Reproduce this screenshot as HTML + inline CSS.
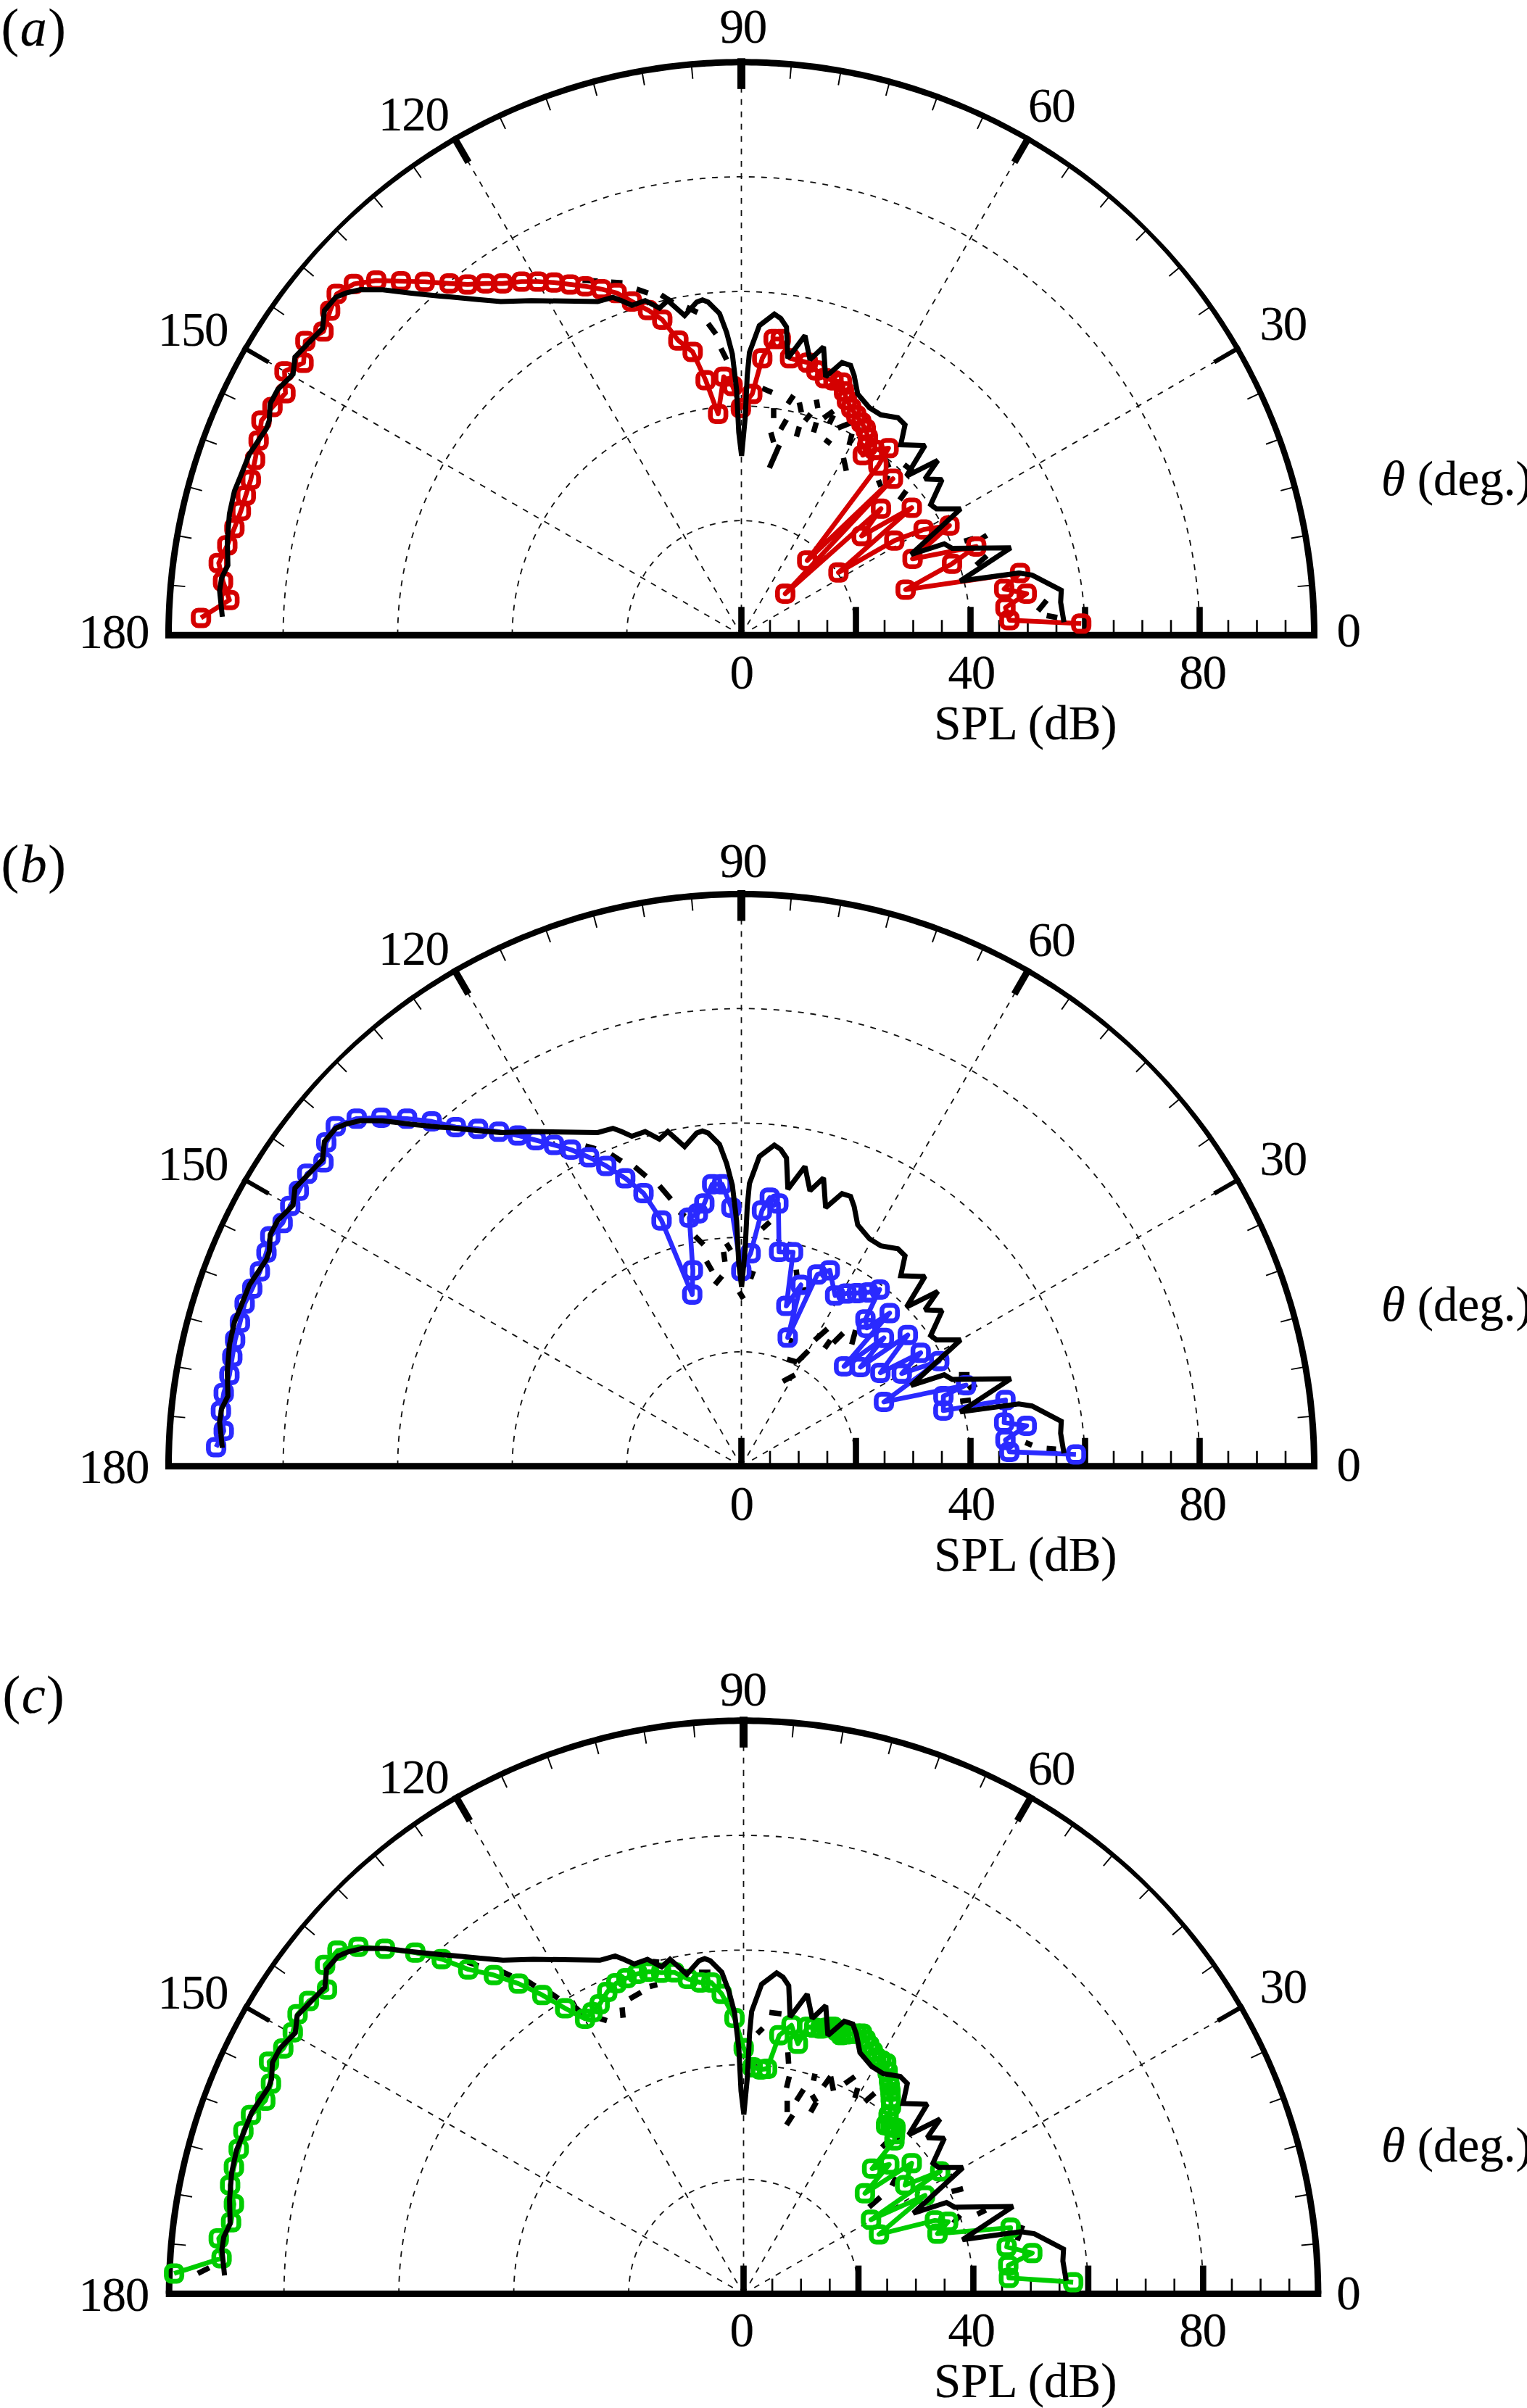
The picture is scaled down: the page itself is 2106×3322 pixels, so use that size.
<!DOCTYPE html>
<html><head><meta charset="utf-8"><title>SPL directivity</title>
<style>
html,body{margin:0;padding:0;background:#fff}
body{width:2106px;height:3322px;overflow:hidden}
svg{display:block}
text{font-family:"Liberation Serif",serif;font-size:67px;fill:#000;stroke:#000;stroke-width:0.2px}
.i{font-style:italic}
.dg{letter-spacing:-1.3px}
.pl{font-size:74px;letter-spacing:1.5px}
.grid{fill:none;stroke:#111;stroke-width:1.8;stroke-dasharray:8 9}
.mtick{stroke:#000;stroke-width:1.9}
.Mtick{stroke:#000;stroke-width:10}
.btick{stroke:#000;stroke-width:2.6}
.Btick{stroke:#000;stroke-width:8.6}
.arc{fill:none;stroke:#000;stroke-width:7.5}
.base{stroke:#000;stroke-width:9}
.sol{fill:none;stroke:#000;stroke-width:7;stroke-linejoin:miter;stroke-miterlimit:1.6}
.dsh{fill:none;stroke:#000;stroke-width:7.5}
.cl{fill:none;stroke-width:6.6;stroke-linejoin:round}
.mk{fill:none;stroke-width:6.6}
</style></head><body>
<svg width="2106" height="3322" viewBox="0 0 2106 3322">
<rect width="2106" height="3322" fill="#fff"/>

<g transform="translate(1022.5,876.3) scale(1.00000,1.00063)">
<path d="M-158.0,0 A158.0,158.0 0 0 1 158.0,0" class="grid"/>
<path d="M-316.0,0 A316.0,316.0 0 0 1 316.0,0" class="grid"/>
<path d="M-474.0,0 A474.0,474.0 0 0 1 474.0,0" class="grid"/>
<path d="M-632.0,0 A632.0,632.0 0 0 1 632.0,0" class="grid"/>
<line x1="0" y1="0" x2="684.2" y2="-395.0" class="grid"/>
<line x1="0" y1="0" x2="395.0" y2="-684.2" class="grid"/>
<line x1="0" y1="0" x2="0.0" y2="-790.0" class="grid"/>
<line x1="0" y1="0" x2="-395.0" y2="-684.2" class="grid"/>
<line x1="0" y1="0" x2="-684.2" y2="-395.0" class="grid"/>
<line x1="787.0" y1="-68.9" x2="767.1" y2="-67.1" class="mtick"/>
<line x1="778.0" y1="-137.2" x2="758.3" y2="-133.7" class="mtick"/>
<line x1="763.1" y1="-204.5" x2="743.8" y2="-199.3" class="mtick"/>
<line x1="742.4" y1="-270.2" x2="723.6" y2="-263.4" class="mtick"/>
<line x1="716.0" y1="-333.9" x2="697.9" y2="-325.4" class="mtick"/>
<line x1="647.1" y1="-453.1" x2="630.7" y2="-441.7" class="mtick"/>
<line x1="605.2" y1="-507.8" x2="589.9" y2="-494.9" class="mtick"/>
<line x1="558.6" y1="-558.6" x2="544.5" y2="-544.5" class="mtick"/>
<line x1="507.8" y1="-605.2" x2="494.9" y2="-589.9" class="mtick"/>
<line x1="453.1" y1="-647.1" x2="441.7" y2="-630.7" class="mtick"/>
<line x1="333.9" y1="-716.0" x2="325.4" y2="-697.9" class="mtick"/>
<line x1="270.2" y1="-742.4" x2="263.4" y2="-723.6" class="mtick"/>
<line x1="204.5" y1="-763.1" x2="199.3" y2="-743.8" class="mtick"/>
<line x1="137.2" y1="-778.0" x2="133.7" y2="-758.3" class="mtick"/>
<line x1="68.9" y1="-787.0" x2="67.1" y2="-767.1" class="mtick"/>
<line x1="-68.9" y1="-787.0" x2="-67.1" y2="-767.1" class="mtick"/>
<line x1="-137.2" y1="-778.0" x2="-133.7" y2="-758.3" class="mtick"/>
<line x1="-204.5" y1="-763.1" x2="-199.3" y2="-743.8" class="mtick"/>
<line x1="-270.2" y1="-742.4" x2="-263.4" y2="-723.6" class="mtick"/>
<line x1="-333.9" y1="-716.0" x2="-325.4" y2="-697.9" class="mtick"/>
<line x1="-453.1" y1="-647.1" x2="-441.7" y2="-630.7" class="mtick"/>
<line x1="-507.8" y1="-605.2" x2="-494.9" y2="-589.9" class="mtick"/>
<line x1="-558.6" y1="-558.6" x2="-544.5" y2="-544.5" class="mtick"/>
<line x1="-605.2" y1="-507.8" x2="-589.9" y2="-494.9" class="mtick"/>
<line x1="-647.1" y1="-453.1" x2="-630.7" y2="-441.7" class="mtick"/>
<line x1="-716.0" y1="-333.9" x2="-697.9" y2="-325.4" class="mtick"/>
<line x1="-742.4" y1="-270.2" x2="-723.6" y2="-263.4" class="mtick"/>
<line x1="-763.1" y1="-204.5" x2="-743.8" y2="-199.3" class="mtick"/>
<line x1="-778.0" y1="-137.2" x2="-758.3" y2="-133.7" class="mtick"/>
<line x1="-787.0" y1="-68.9" x2="-767.1" y2="-67.1" class="mtick"/>
<line x1="687.6" y1="-397.0" x2="652.1" y2="-376.5" stroke="#000" stroke-width="6.2"/>
<line x1="397.0" y1="-687.6" x2="376.5" y2="-652.1" stroke="#000" stroke-width="9.5"/>
<line x1="0.0" y1="-795.5" x2="0.0" y2="-753.0" stroke="#000" stroke-width="11.0"/>
<line x1="-397.0" y1="-687.6" x2="-376.5" y2="-652.1" stroke="#000" stroke-width="9.5"/>
<line x1="-687.6" y1="-397.0" x2="-652.1" y2="-376.5" stroke="#000" stroke-width="6.2"/>
<line x1="39.5" y1="0" x2="39.5" y2="-21" class="btick"/>
<line x1="79.0" y1="0" x2="79.0" y2="-21" class="btick"/>
<line x1="118.5" y1="0" x2="118.5" y2="-21" class="btick"/>
<line x1="158.0" y1="0" x2="158.0" y2="-39" class="Btick"/>
<line x1="197.5" y1="0" x2="197.5" y2="-21" class="btick"/>
<line x1="237.0" y1="0" x2="237.0" y2="-21" class="btick"/>
<line x1="276.5" y1="0" x2="276.5" y2="-21" class="btick"/>
<line x1="316.0" y1="0" x2="316.0" y2="-39" class="Btick"/>
<line x1="355.5" y1="0" x2="355.5" y2="-21" class="btick"/>
<line x1="395.0" y1="0" x2="395.0" y2="-21" class="btick"/>
<line x1="434.5" y1="0" x2="434.5" y2="-21" class="btick"/>
<line x1="474.0" y1="0" x2="474.0" y2="-39" class="Btick"/>
<line x1="513.5" y1="0" x2="513.5" y2="-21" class="btick"/>
<line x1="553.0" y1="0" x2="553.0" y2="-21" class="btick"/>
<line x1="592.5" y1="0" x2="592.5" y2="-21" class="btick"/>
<line x1="632.0" y1="0" x2="632.0" y2="-39" class="Btick"/>
<line x1="671.5" y1="0" x2="671.5" y2="-21" class="btick"/>
<line x1="711.0" y1="0" x2="711.0" y2="-21" class="btick"/>
<line x1="750.5" y1="0" x2="750.5" y2="-21" class="btick"/>
<line x1="0" y1="0" x2="0" y2="-39" class="Btick"/>
<polygon fill="#000" points="794.5,-0.0 794.5,-6.9 794.4,-13.9 794.2,-20.8 794.0,-27.7 793.7,-34.7 793.4,-41.6 793.0,-48.5 792.6,-55.4 792.0,-62.3 791.5,-69.2 790.8,-76.1 790.1,-83.0 789.4,-89.9 788.5,-96.8 787.7,-103.7 786.7,-110.6 785.7,-117.4 784.6,-124.3 783.5,-131.1 782.3,-137.9 781.1,-144.8 779.8,-151.6 778.4,-158.4 777.0,-165.2 775.5,-171.9 774.0,-178.7 772.4,-185.4 770.7,-192.2 769.0,-198.9 767.2,-205.6 765.4,-212.3 763.5,-218.9 761.6,-225.6 759.5,-232.2 757.5,-238.8 755.3,-245.4 753.2,-252.0 750.9,-258.6 748.6,-265.1 746.3,-271.6 743.8,-278.1 741.4,-284.6 738.8,-291.0 736.3,-297.5 733.6,-303.9 730.9,-310.3 728.2,-316.6 725.4,-322.9 722.5,-329.3 719.6,-335.5 716.6,-341.8 713.6,-348.0 710.5,-354.2 707.3,-360.4 704.2,-366.6 700.9,-372.7 697.6,-378.8 694.3,-384.8 690.9,-390.9 687.4,-396.9 683.9,-402.8 680.3,-408.8 676.7,-414.7 673.0,-420.6 669.3,-426.4 665.6,-432.2 661.7,-438.0 657.9,-443.7 653.9,-449.4 650.0,-455.1 646.0,-460.8 641.9,-466.4 637.8,-471.9 633.6,-477.5 629.4,-482.9 625.1,-488.4 620.8,-493.8 616.5,-499.2 612.1,-504.5 607.6,-509.8 603.1,-515.1 598.6,-520.3 594.0,-525.5 589.4,-530.7 584.7,-535.8 580.0,-540.8 575.2,-545.8 570.4,-550.8 565.5,-555.8 560.6,-560.6 555.8,-565.5 550.8,-570.4 545.8,-575.2 540.8,-580.0 535.8,-584.7 530.7,-589.4 525.5,-594.0 520.3,-598.6 515.1,-603.1 509.8,-607.6 504.5,-612.1 499.2,-616.5 493.8,-620.8 488.4,-625.1 482.9,-629.4 477.5,-633.6 471.9,-637.8 466.4,-641.9 460.8,-646.0 455.1,-650.0 449.4,-653.9 443.7,-657.9 438.0,-661.7 432.2,-665.6 426.4,-669.3 420.6,-673.0 414.7,-676.7 408.8,-680.3 402.8,-683.9 396.9,-687.4 390.9,-690.9 384.8,-694.3 378.8,-697.6 372.7,-700.9 366.6,-704.2 360.4,-707.3 354.2,-710.5 348.0,-713.6 341.8,-716.6 335.5,-719.6 329.3,-722.5 322.9,-725.4 316.6,-728.2 310.3,-730.9 303.9,-733.6 297.5,-736.3 291.0,-738.8 284.6,-741.4 278.1,-743.8 271.6,-746.3 265.1,-748.6 258.6,-750.9 252.0,-753.2 245.4,-755.3 238.8,-757.5 232.2,-759.5 225.6,-761.6 218.9,-763.5 212.3,-765.4 205.6,-767.2 198.9,-769.0 192.2,-770.7 185.4,-772.4 178.7,-774.0 171.9,-775.5 165.2,-777.0 158.4,-778.4 151.6,-779.8 144.8,-781.1 137.9,-782.3 131.1,-783.5 124.3,-784.6 117.4,-785.7 110.6,-786.7 103.7,-787.7 96.8,-788.5 89.9,-789.4 83.0,-790.1 76.1,-790.8 69.2,-791.5 62.3,-792.0 55.4,-792.6 48.5,-793.0 41.6,-793.4 34.7,-793.7 27.7,-794.0 20.8,-794.2 13.9,-794.4 6.9,-794.5 0.0,-794.5 -6.9,-794.5 -13.9,-794.4 -20.8,-794.2 -27.7,-794.0 -34.7,-793.7 -41.6,-793.4 -48.5,-793.0 -55.4,-792.6 -62.3,-792.0 -69.2,-791.5 -76.1,-790.8 -83.0,-790.1 -89.9,-789.4 -96.8,-788.5 -103.7,-787.7 -110.6,-786.7 -117.4,-785.7 -124.3,-784.6 -131.1,-783.5 -137.9,-782.3 -144.8,-781.1 -151.6,-779.8 -158.4,-778.4 -165.2,-777.0 -171.9,-775.5 -178.7,-774.0 -185.4,-772.4 -192.2,-770.7 -198.9,-769.0 -205.6,-767.2 -212.3,-765.4 -218.9,-763.5 -225.6,-761.6 -232.2,-759.5 -238.8,-757.5 -245.4,-755.3 -252.0,-753.2 -258.6,-750.9 -265.1,-748.6 -271.6,-746.3 -278.1,-743.8 -284.6,-741.4 -291.0,-738.8 -297.5,-736.3 -303.9,-733.6 -310.3,-730.9 -316.6,-728.2 -322.9,-725.4 -329.3,-722.5 -335.5,-719.6 -341.8,-716.6 -348.0,-713.6 -354.2,-710.5 -360.4,-707.3 -366.6,-704.2 -372.7,-700.9 -378.8,-697.6 -384.8,-694.3 -390.9,-690.9 -396.9,-687.4 -402.8,-683.9 -408.8,-680.3 -414.7,-676.7 -420.6,-673.0 -426.4,-669.3 -432.2,-665.6 -438.0,-661.7 -443.7,-657.9 -449.4,-653.9 -455.1,-650.0 -460.8,-646.0 -466.4,-641.9 -471.9,-637.8 -477.5,-633.6 -482.9,-629.4 -488.4,-625.1 -493.8,-620.8 -499.2,-616.5 -504.5,-612.1 -509.8,-607.6 -515.1,-603.1 -520.3,-598.6 -525.5,-594.0 -530.7,-589.4 -535.8,-584.7 -540.8,-580.0 -545.8,-575.2 -550.8,-570.4 -555.8,-565.5 -560.6,-560.6 -565.5,-555.8 -570.4,-550.8 -575.2,-545.8 -580.0,-540.8 -584.7,-535.8 -589.4,-530.7 -594.0,-525.5 -598.6,-520.3 -603.1,-515.1 -607.6,-509.8 -612.1,-504.5 -616.5,-499.2 -620.8,-493.8 -625.1,-488.4 -629.4,-482.9 -633.6,-477.5 -637.8,-471.9 -641.9,-466.4 -646.0,-460.8 -650.0,-455.1 -653.9,-449.4 -657.9,-443.7 -661.7,-438.0 -665.6,-432.2 -669.3,-426.4 -673.0,-420.6 -676.7,-414.7 -680.3,-408.8 -683.9,-402.8 -687.4,-396.9 -690.9,-390.9 -694.3,-384.8 -697.6,-378.8 -700.9,-372.7 -704.2,-366.6 -707.3,-360.4 -710.5,-354.2 -713.6,-348.0 -716.6,-341.8 -719.6,-335.5 -722.5,-329.3 -725.4,-322.9 -728.2,-316.6 -730.9,-310.3 -733.6,-303.9 -736.3,-297.5 -738.8,-291.0 -741.4,-284.6 -743.8,-278.1 -746.3,-271.6 -748.6,-265.1 -750.9,-258.6 -753.2,-252.0 -755.3,-245.4 -757.5,-238.8 -759.5,-232.2 -761.6,-225.6 -763.5,-218.9 -765.4,-212.3 -767.2,-205.6 -769.0,-198.9 -770.7,-192.2 -772.4,-185.4 -774.0,-178.7 -775.5,-171.9 -777.0,-165.2 -778.4,-158.4 -779.8,-151.6 -781.1,-144.8 -782.3,-137.9 -783.5,-131.1 -784.6,-124.3 -785.7,-117.4 -786.7,-110.6 -787.7,-103.7 -788.5,-96.8 -789.4,-89.9 -790.1,-83.0 -790.8,-76.1 -791.5,-69.2 -792.0,-62.3 -792.6,-55.4 -793.0,-48.5 -793.4,-41.6 -793.7,-34.7 -794.0,-27.7 -794.2,-20.8 -794.4,-13.9 -794.5,-6.9 -794.5,-0.0 -785.5,-0.0 -785.5,-6.9 -785.4,-13.7 -785.2,-20.6 -785.0,-27.4 -784.8,-34.3 -784.4,-41.1 -784.0,-48.0 -783.6,-54.8 -783.1,-61.6 -782.5,-68.5 -781.9,-75.3 -781.2,-82.1 -780.5,-88.9 -779.7,-95.7 -778.8,-102.5 -777.9,-109.3 -776.9,-116.1 -775.9,-122.9 -774.8,-129.7 -773.7,-136.4 -772.4,-143.2 -771.2,-149.9 -769.8,-156.6 -768.5,-163.3 -767.0,-170.0 -765.5,-176.7 -764.0,-183.4 -762.3,-190.1 -760.7,-196.7 -758.9,-203.4 -757.1,-210.0 -755.3,-216.6 -753.4,-223.2 -751.4,-229.7 -749.4,-236.3 -747.3,-242.8 -745.2,-249.3 -743.0,-255.8 -740.8,-262.3 -738.5,-268.8 -736.1,-275.2 -733.7,-281.6 -731.2,-288.0 -728.7,-294.4 -726.1,-300.8 -723.5,-307.1 -720.8,-313.4 -718.0,-319.7 -715.2,-326.0 -712.4,-332.2 -709.5,-338.4 -706.5,-344.6 -703.5,-350.8 -700.4,-356.9 -697.3,-363.0 -694.1,-369.1 -690.9,-375.1 -687.6,-381.2 -684.3,-387.2 -680.9,-393.1 -677.5,-399.1 -674.0,-405.0 -670.5,-410.9 -666.9,-416.7 -663.2,-422.5 -659.5,-428.3 -655.8,-434.1 -652.0,-439.8 -648.2,-445.5 -644.3,-451.1 -640.3,-456.8 -636.4,-462.3 -632.3,-467.9 -628.2,-473.4 -624.1,-478.9 -619.9,-484.3 -615.7,-489.7 -611.4,-495.1 -607.1,-500.5 -602.7,-505.8 -598.3,-511.0 -593.9,-516.2 -589.4,-521.4 -584.8,-526.6 -580.2,-531.7 -575.6,-536.7 -570.9,-541.8 -566.2,-546.7 -561.4,-551.7 -556.6,-556.6 -551.7,-561.4 -546.7,-566.2 -541.8,-570.9 -536.7,-575.6 -531.7,-580.2 -526.6,-584.8 -521.4,-589.4 -516.2,-593.9 -511.0,-598.3 -505.8,-602.7 -500.5,-607.1 -495.1,-611.4 -489.7,-615.7 -484.3,-619.9 -478.9,-624.1 -473.4,-628.2 -467.9,-632.3 -462.3,-636.4 -456.8,-640.3 -451.1,-644.3 -445.5,-648.2 -439.8,-652.0 -434.1,-655.8 -428.3,-659.5 -422.5,-663.2 -416.7,-666.9 -410.9,-670.5 -405.0,-674.0 -399.1,-677.5 -393.1,-680.9 -387.2,-684.3 -381.2,-687.6 -375.1,-690.9 -369.1,-694.1 -363.0,-697.3 -356.9,-700.4 -350.8,-703.5 -344.6,-706.5 -338.4,-709.5 -332.2,-712.4 -326.0,-715.2 -319.7,-718.0 -313.4,-720.8 -307.1,-723.5 -300.8,-726.1 -294.4,-728.7 -288.0,-731.2 -281.6,-733.7 -275.2,-736.1 -268.8,-738.5 -262.3,-740.8 -255.8,-743.0 -249.3,-745.2 -242.8,-747.3 -236.3,-749.4 -229.7,-751.4 -223.2,-753.4 -216.6,-755.3 -210.0,-757.1 -203.4,-758.9 -196.7,-760.7 -190.1,-762.3 -183.4,-764.0 -176.7,-765.5 -170.0,-767.0 -163.3,-768.5 -156.6,-769.8 -149.9,-771.2 -143.2,-772.4 -136.4,-773.7 -129.7,-774.8 -122.9,-775.9 -116.1,-776.9 -109.3,-777.9 -102.5,-778.8 -95.7,-779.7 -88.9,-780.5 -82.1,-781.2 -75.3,-781.9 -68.5,-782.5 -61.6,-783.1 -54.8,-783.6 -48.0,-784.0 -41.1,-784.4 -34.3,-784.8 -27.4,-785.0 -20.6,-785.2 -13.7,-785.4 -6.9,-785.5 0.0,-785.5 6.9,-785.5 13.7,-785.4 20.6,-785.2 27.4,-785.0 34.3,-784.8 41.1,-784.4 48.0,-784.0 54.8,-783.6 61.6,-783.1 68.5,-782.5 75.3,-781.9 82.1,-781.2 88.9,-780.5 95.7,-779.7 102.5,-778.8 109.3,-777.9 116.1,-776.9 122.9,-775.9 129.7,-774.8 136.4,-773.7 143.2,-772.4 149.9,-771.2 156.6,-769.8 163.3,-768.5 170.0,-767.0 176.7,-765.5 183.4,-764.0 190.1,-762.3 196.7,-760.7 203.4,-758.9 210.0,-757.1 216.6,-755.3 223.2,-753.4 229.7,-751.4 236.3,-749.4 242.8,-747.3 249.3,-745.2 255.8,-743.0 262.3,-740.8 268.8,-738.5 275.2,-736.1 281.6,-733.7 288.0,-731.2 294.4,-728.7 300.8,-726.1 307.1,-723.5 313.4,-720.8 319.7,-718.0 326.0,-715.2 332.2,-712.4 338.4,-709.5 344.6,-706.5 350.8,-703.5 356.9,-700.4 363.0,-697.3 369.1,-694.1 375.1,-690.9 381.2,-687.6 387.2,-684.3 393.1,-680.9 399.1,-677.5 405.0,-674.0 410.9,-670.5 416.7,-666.9 422.5,-663.2 428.3,-659.5 434.1,-655.8 439.8,-652.0 445.5,-648.2 451.1,-644.3 456.8,-640.3 462.3,-636.4 467.9,-632.3 473.4,-628.2 478.9,-624.1 484.3,-619.9 489.7,-615.7 495.1,-611.4 500.5,-607.1 505.8,-602.7 511.0,-598.3 516.2,-593.9 521.4,-589.4 526.6,-584.8 531.7,-580.2 536.7,-575.6 541.8,-570.9 546.7,-566.2 551.7,-561.4 556.6,-556.6 561.4,-551.7 566.2,-546.7 570.9,-541.8 575.6,-536.7 580.2,-531.7 584.8,-526.6 589.4,-521.4 593.9,-516.2 598.3,-511.0 602.7,-505.8 607.1,-500.5 611.4,-495.1 615.7,-489.7 619.9,-484.3 624.1,-478.9 628.2,-473.4 632.3,-467.9 636.4,-462.3 640.3,-456.8 644.3,-451.1 648.2,-445.5 652.0,-439.8 655.8,-434.1 659.5,-428.3 663.2,-422.5 666.9,-416.7 670.5,-410.9 674.0,-405.0 677.5,-399.1 680.9,-393.1 684.3,-387.2 687.6,-381.2 690.9,-375.1 694.1,-369.1 697.3,-363.0 700.4,-356.9 703.5,-350.8 706.5,-344.6 709.5,-338.4 712.4,-332.2 715.2,-326.0 718.0,-319.7 720.8,-313.4 723.5,-307.1 726.1,-300.8 728.7,-294.4 731.2,-288.0 733.7,-281.6 736.1,-275.2 738.5,-268.8 740.8,-262.3 743.0,-255.8 745.2,-249.3 747.3,-242.8 749.4,-236.3 751.4,-229.7 753.4,-223.2 755.3,-216.6 757.1,-210.0 758.9,-203.4 760.7,-196.7 762.3,-190.1 764.0,-183.4 765.5,-176.7 767.0,-170.0 768.5,-163.3 769.8,-156.6 771.2,-149.9 772.4,-143.2 773.7,-136.4 774.8,-129.7 775.9,-122.9 776.9,-116.1 777.9,-109.3 778.8,-102.5 779.7,-95.7 780.5,-88.9 781.2,-82.1 781.9,-75.3 782.5,-68.5 783.1,-61.6 783.6,-54.8 784.0,-48.0 784.4,-41.1 784.8,-34.3 785.0,-27.4 785.2,-20.6 785.4,-13.7 785.5,-6.9 785.5,-0.0"/>
<line x1="-794.5" y1="0" x2="794.5" y2="0" class="base"/>
</g>
<polyline class="dsh" points="803.4,386.6 824.3,387.7"/>
<polyline class="dsh" points="842.7,389.2 858.4,390.3"/>
<polyline class="dsh" points="878.0,398.9 893.7,404.2"/>
<polyline class="dsh" points="976.6,446.2 987.4,460.9"/>
<polyline class="dsh" points="994.3,480.6 1002.2,496.3"/>
<polyline class="dsh" points="1051.3,535.6 1065.0,541.5"/>
<polyline class="dsh" points="1094.5,545.4 1086.6,557.2"/>
<polyline class="dsh" points="1102.4,555.2 1105.3,569.0"/>
<polyline class="dsh" points="1125.9,551.3 1127.9,563.1"/>
<polyline class="dsh" points="1067.0,563.1 1067.0,576.8"/>
<polyline class="dsh" points="1084.7,578.8 1076.8,592.5"/>
<polyline class="dsh" points="1102.4,588.6 1098.4,602.4"/>
<polyline class="dsh" points="1118.1,570.9 1110.2,580.7"/>
<polyline class="dsh" points="1125.9,582.7 1122.0,596.5"/>
<polyline class="dsh" points="1149.5,567.0 1135.8,576.8"/>
<polyline class="dsh" points="1149.5,572.9 1143.6,584.7"/>
<polyline class="dsh" points="1175.0,582.7 1155.4,590.6"/>
<polyline class="dsh" points="1137.7,606.3 1145.6,612.2"/>
<polyline class="dsh" points="1175.0,598.4 1171.1,614.1"/>
<polyline class="dsh" points="1063.1,596.5 1067.0,610.2"/>
<polyline class="dsh" points="1074.9,614.1 1061.1,645.6"/>
<polyline class="dsh" points="1163.3,631.8 1167.2,649.5"/>
<polyline class="dsh" points="1211.4,662.3 1215.0,671.5"/>
<polyline class="dsh" points="1249.9,677.0 1240.7,689.8"/>
<polyline class="dsh" points="1329.9,746.5 1342.7,742.9"/>
<polyline class="dsh" points="1353.7,742.9 1361.0,738.3"/>
<polyline class="dsh" points="1346.4,779.5 1361.0,766.7"/>
<polyline class="dsh" points="1431.6,842.8 1443.5,828.1"/>
<polyline class="dsh" points="1443.5,849.2 1458.2,852.0"/>
<polyline class="dsh" points="911.8,406.9 928.0,417.5"/>
<polyline class="dsh" points="947.0,424.0 962.0,431.0"/>
<polyline class="dsh" points="1222.0,636.0 1226.0,645.0"/>
<polyline class="dsh" points="1224.5,656.0 1221.0,665.0"/>
<polyline class="dsh" points="1247.0,641.0 1259.0,650.0"/>
<polyline class="cl" stroke="#d40000" points="277.2,852.4 316.4,827.8 307.6,802.3 301.7,776.7 313.5,752.2 323.3,728.6 332.2,705.0 339.0,683.4 345.9,661.8 351.8,634.3 356.7,607.8 360.6,580.3 375.8,561.5 393.7,542.4 392.4,512.3 418.6,500.5 421.2,470.4 446.1,457.3 455.3,428.5 464.4,405.5 488.0,391.8 519.0,387.0 553.0,388.0 585.8,388.8 620.0,391.1 644.9,392.4 669.8,391.1 693.3,391.1 719.5,388.5 741.8,388.5 764.1,389.8 786.3,392.4 807.3,395.0 829.6,398.9 850.5,404.2 871.5,416.0 893.7,427.8 913.4,440.9 935.6,469.7 955.3,485.4 973.2,524.5 990.4,570.9 998.2,519.8 1010.4,532.6 1021.8,563.0 1037.5,543.4 1051.3,494.3 1067.0,467.8 1076.8,467.8 1089.6,494.3 1114.1,500.2 1125.9,511.0 1137.7,521.8 1149.5,524.8 1161.3,527.7 1164.0,540.0 1168.0,552.0 1174.0,563.0 1181.0,573.0 1188.0,583.0 1194.0,592.0 1197.0,604.0 1196.0,616.0 1189.9,628.0 1206.0,620.5 1225.5,618.2 1211.4,642.2 1113.3,773.3 1231.5,660.5 1083.0,819.1 1215.0,701.8 1188.4,739.4 1257.5,700.5 1156.4,789.8 1233.4,745.8 1273.8,730.5 1309.5,725.0 1258.6,771.0 1346.4,753.9 1313.0,777.8 1249.1,813.5 1406.9,790.5 1384.9,812.5 1416.0,819.0 1386.7,838.2 1392.2,855.6 1491.2,860.2"/>
<rect class="mk" stroke="#d40000" x="266.5" y="841.7" width="21.4" height="21.4" rx="7"/>
<rect class="mk" stroke="#d40000" x="305.7" y="817.1" width="21.4" height="21.4" rx="7"/>
<rect class="mk" stroke="#d40000" x="296.9" y="791.6" width="21.4" height="21.4" rx="7"/>
<rect class="mk" stroke="#d40000" x="291.0" y="766.0" width="21.4" height="21.4" rx="7"/>
<rect class="mk" stroke="#d40000" x="302.8" y="741.5" width="21.4" height="21.4" rx="7"/>
<rect class="mk" stroke="#d40000" x="312.6" y="717.9" width="21.4" height="21.4" rx="7"/>
<rect class="mk" stroke="#d40000" x="321.5" y="694.3" width="21.4" height="21.4" rx="7"/>
<rect class="mk" stroke="#d40000" x="328.3" y="672.7" width="21.4" height="21.4" rx="7"/>
<rect class="mk" stroke="#d40000" x="335.2" y="651.1" width="21.4" height="21.4" rx="7"/>
<rect class="mk" stroke="#d40000" x="341.1" y="623.6" width="21.4" height="21.4" rx="7"/>
<rect class="mk" stroke="#d40000" x="346.0" y="597.1" width="21.4" height="21.4" rx="7"/>
<rect class="mk" stroke="#d40000" x="349.9" y="569.6" width="21.4" height="21.4" rx="7"/>
<rect class="mk" stroke="#d40000" x="365.1" y="550.8" width="21.4" height="21.4" rx="7"/>
<rect class="mk" stroke="#d40000" x="383.0" y="531.7" width="21.4" height="21.4" rx="7"/>
<rect class="mk" stroke="#d40000" x="381.7" y="501.6" width="21.4" height="21.4" rx="7"/>
<rect class="mk" stroke="#d40000" x="407.9" y="489.8" width="21.4" height="21.4" rx="7"/>
<rect class="mk" stroke="#d40000" x="410.5" y="459.7" width="21.4" height="21.4" rx="7"/>
<rect class="mk" stroke="#d40000" x="435.4" y="446.6" width="21.4" height="21.4" rx="7"/>
<rect class="mk" stroke="#d40000" x="444.6" y="417.8" width="21.4" height="21.4" rx="7"/>
<rect class="mk" stroke="#d40000" x="453.7" y="394.8" width="21.4" height="21.4" rx="7"/>
<rect class="mk" stroke="#d40000" x="477.3" y="381.1" width="21.4" height="21.4" rx="7"/>
<rect class="mk" stroke="#d40000" x="508.3" y="376.3" width="21.4" height="21.4" rx="7"/>
<rect class="mk" stroke="#d40000" x="542.3" y="377.3" width="21.4" height="21.4" rx="7"/>
<rect class="mk" stroke="#d40000" x="575.1" y="378.1" width="21.4" height="21.4" rx="7"/>
<rect class="mk" stroke="#d40000" x="609.3" y="380.4" width="21.4" height="21.4" rx="7"/>
<rect class="mk" stroke="#d40000" x="634.2" y="381.7" width="21.4" height="21.4" rx="7"/>
<rect class="mk" stroke="#d40000" x="659.1" y="380.4" width="21.4" height="21.4" rx="7"/>
<rect class="mk" stroke="#d40000" x="682.6" y="380.4" width="21.4" height="21.4" rx="7"/>
<rect class="mk" stroke="#d40000" x="708.8" y="377.8" width="21.4" height="21.4" rx="7"/>
<rect class="mk" stroke="#d40000" x="731.1" y="377.8" width="21.4" height="21.4" rx="7"/>
<rect class="mk" stroke="#d40000" x="753.4" y="379.1" width="21.4" height="21.4" rx="7"/>
<rect class="mk" stroke="#d40000" x="775.6" y="381.7" width="21.4" height="21.4" rx="7"/>
<rect class="mk" stroke="#d40000" x="796.6" y="384.3" width="21.4" height="21.4" rx="7"/>
<rect class="mk" stroke="#d40000" x="818.9" y="388.2" width="21.4" height="21.4" rx="7"/>
<rect class="mk" stroke="#d40000" x="839.8" y="393.5" width="21.4" height="21.4" rx="7"/>
<rect class="mk" stroke="#d40000" x="860.8" y="405.3" width="21.4" height="21.4" rx="7"/>
<rect class="mk" stroke="#d40000" x="883.0" y="417.1" width="21.4" height="21.4" rx="7"/>
<rect class="mk" stroke="#d40000" x="902.7" y="430.2" width="21.4" height="21.4" rx="7"/>
<rect class="mk" stroke="#d40000" x="924.9" y="459.0" width="21.4" height="21.4" rx="7"/>
<rect class="mk" stroke="#d40000" x="944.6" y="474.7" width="21.4" height="21.4" rx="7"/>
<rect class="mk" stroke="#d40000" x="962.5" y="513.8" width="21.4" height="21.4" rx="7"/>
<rect class="mk" stroke="#d40000" x="979.7" y="560.2" width="21.4" height="21.4" rx="7"/>
<rect class="mk" stroke="#d40000" x="987.5" y="509.1" width="21.4" height="21.4" rx="7"/>
<rect class="mk" stroke="#d40000" x="999.7" y="521.9" width="21.4" height="21.4" rx="7"/>
<rect class="mk" stroke="#d40000" x="1011.1" y="552.3" width="21.4" height="21.4" rx="7"/>
<rect class="mk" stroke="#d40000" x="1026.8" y="532.7" width="21.4" height="21.4" rx="7"/>
<rect class="mk" stroke="#d40000" x="1040.6" y="483.6" width="21.4" height="21.4" rx="7"/>
<rect class="mk" stroke="#d40000" x="1056.3" y="457.1" width="21.4" height="21.4" rx="7"/>
<rect class="mk" stroke="#d40000" x="1066.1" y="457.1" width="21.4" height="21.4" rx="7"/>
<rect class="mk" stroke="#d40000" x="1078.9" y="483.6" width="21.4" height="21.4" rx="7"/>
<rect class="mk" stroke="#d40000" x="1103.4" y="489.5" width="21.4" height="21.4" rx="7"/>
<rect class="mk" stroke="#d40000" x="1115.2" y="500.3" width="21.4" height="21.4" rx="7"/>
<rect class="mk" stroke="#d40000" x="1127.0" y="511.1" width="21.4" height="21.4" rx="7"/>
<rect class="mk" stroke="#d40000" x="1138.8" y="514.0" width="21.4" height="21.4" rx="7"/>
<rect class="mk" stroke="#d40000" x="1150.6" y="517.0" width="21.4" height="21.4" rx="7"/>
<rect class="mk" stroke="#d40000" x="1153.3" y="529.3" width="21.4" height="21.4" rx="7"/>
<rect class="mk" stroke="#d40000" x="1157.3" y="541.3" width="21.4" height="21.4" rx="7"/>
<rect class="mk" stroke="#d40000" x="1163.3" y="552.3" width="21.4" height="21.4" rx="7"/>
<rect class="mk" stroke="#d40000" x="1170.3" y="562.3" width="21.4" height="21.4" rx="7"/>
<rect class="mk" stroke="#d40000" x="1177.3" y="572.3" width="21.4" height="21.4" rx="7"/>
<rect class="mk" stroke="#d40000" x="1183.3" y="581.3" width="21.4" height="21.4" rx="7"/>
<rect class="mk" stroke="#d40000" x="1186.3" y="593.3" width="21.4" height="21.4" rx="7"/>
<rect class="mk" stroke="#d40000" x="1185.3" y="605.3" width="21.4" height="21.4" rx="7"/>
<rect class="mk" stroke="#d40000" x="1179.2" y="617.3" width="21.4" height="21.4" rx="7"/>
<rect class="mk" stroke="#d40000" x="1195.3" y="609.8" width="21.4" height="21.4" rx="7"/>
<rect class="mk" stroke="#d40000" x="1214.8" y="607.5" width="21.4" height="21.4" rx="7"/>
<rect class="mk" stroke="#d40000" x="1200.7" y="631.5" width="21.4" height="21.4" rx="7"/>
<rect class="mk" stroke="#d40000" x="1102.6" y="762.6" width="21.4" height="21.4" rx="7"/>
<rect class="mk" stroke="#d40000" x="1220.8" y="649.8" width="21.4" height="21.4" rx="7"/>
<rect class="mk" stroke="#d40000" x="1072.3" y="808.4" width="21.4" height="21.4" rx="7"/>
<rect class="mk" stroke="#d40000" x="1204.3" y="691.1" width="21.4" height="21.4" rx="7"/>
<rect class="mk" stroke="#d40000" x="1177.7" y="728.7" width="21.4" height="21.4" rx="7"/>
<rect class="mk" stroke="#d40000" x="1246.8" y="689.8" width="21.4" height="21.4" rx="7"/>
<rect class="mk" stroke="#d40000" x="1145.7" y="779.1" width="21.4" height="21.4" rx="7"/>
<rect class="mk" stroke="#d40000" x="1222.7" y="735.1" width="21.4" height="21.4" rx="7"/>
<rect class="mk" stroke="#d40000" x="1263.1" y="719.8" width="21.4" height="21.4" rx="7"/>
<rect class="mk" stroke="#d40000" x="1298.8" y="714.3" width="21.4" height="21.4" rx="7"/>
<rect class="mk" stroke="#d40000" x="1247.9" y="760.3" width="21.4" height="21.4" rx="7"/>
<rect class="mk" stroke="#d40000" x="1335.7" y="743.2" width="21.4" height="21.4" rx="7"/>
<rect class="mk" stroke="#d40000" x="1302.3" y="767.1" width="21.4" height="21.4" rx="7"/>
<rect class="mk" stroke="#d40000" x="1238.4" y="802.8" width="21.4" height="21.4" rx="7"/>
<rect class="mk" stroke="#d40000" x="1396.2" y="779.8" width="21.4" height="21.4" rx="7"/>
<rect class="mk" stroke="#d40000" x="1374.2" y="801.8" width="21.4" height="21.4" rx="7"/>
<rect class="mk" stroke="#d40000" x="1405.3" y="808.3" width="21.4" height="21.4" rx="7"/>
<rect class="mk" stroke="#d40000" x="1376.0" y="827.5" width="21.4" height="21.4" rx="7"/>
<rect class="mk" stroke="#d40000" x="1381.5" y="844.9" width="21.4" height="21.4" rx="7"/>
<rect class="mk" stroke="#d40000" x="1480.5" y="849.5" width="21.4" height="21.4" rx="7"/>
<polyline class="sol" points="306.6,850.9 302.9,815.0 305.6,797.4 314.3,779.7 313.5,746.3 316.4,709.0 323.3,677.5 332.2,655.9 343.9,626.4 367.5,591.1 371.4,580.0 372.7,556.8 383.2,537.2 404.2,516.2 406.8,492.6 444.8,453.3 447.4,428.5 463.1,410.1 477.5,404.2 497.2,399.6 528.1,399.8 567.4,404.5 606.7,408.5 620.0,409.4 659.3,413.3 690.7,416.0 732.6,414.7 824.3,416.0 845.3,410.2 857.1,414.7 871.5,421.2 889.8,414.7 909.5,425.1 921.0,414.6 944.2,435.4 960.9,416.7 968.8,413.8 976.6,416.7 992.3,432.4 1002.2,458.9 1010.0,488.4 1015.9,537.5 1018.9,596.5 1022.8,628.9 1027.7,576.8 1030.6,517.9 1033.6,486.4 1047.3,449.1 1068.0,433.4 1076.8,439.3 1084.7,451.1 1086.6,494.3 1110.2,462.9 1117.1,496.3 1135.8,478.6 1138.7,519.8 1161.3,500.2 1173.1,504.1 1178.0,517.9 1182.9,543.4 1199.1,562.5 1214.8,572.3 1238.4,576.3 1248.2,586.1 1242.3,613.6 1275.7,614.6 1250.2,656.8 1293.4,635.2 1275.7,660.7 1299.3,661.7 1283.6,696.1 1291.5,702.0 1324.9,702.0 1256.5,764.9 1302.3,750.2 1313.3,756.6 1394.0,755.7 1324.3,801.5 1405.0,790.5 1423.4,793.3 1463.7,814.4 1462.8,830.9 1467.4,858.4"/>
<text x="1024.7" y="58.9" text-anchor="middle" class="dg">90</text>
<text x="570.3" y="179.5" text-anchor="middle" class="dg">120</text>
<text x="1450.2" y="167.8" text-anchor="middle" class="dg">60</text>
<text x="266.0" y="476.5" text-anchor="middle" class="dg">150</text>
<text x="1769.8" y="469.1" text-anchor="middle" class="dg">30</text>
<text x="156.8" y="894.3" text-anchor="middle" class="dg">180</text>
<text x="1860.2" y="891.6" text-anchor="middle">0</text>
<text x="1023.3" y="949.5" text-anchor="middle">0</text>
<text x="1339.7" y="949.5" text-anchor="middle" class="dg">40</text>
<text x="1658.5" y="949.5" text-anchor="middle" class="dg">80</text>
<text x="1414.4" y="1020.2" text-anchor="middle">SPL (dB)</text>
<text x="1905" y="683.3"><tspan class="i">θ</tspan> (deg.)</text>
<text x="1.5" y="62.9" class="pl">(<tspan class="i">a</tspan>)</text>
<g transform="translate(1022.5,2022.7) scale(1.00000,0.99899)">
<path d="M-158.0,0 A158.0,158.0 0 0 1 158.0,0" class="grid"/>
<path d="M-316.0,0 A316.0,316.0 0 0 1 316.0,0" class="grid"/>
<path d="M-474.0,0 A474.0,474.0 0 0 1 474.0,0" class="grid"/>
<path d="M-632.0,0 A632.0,632.0 0 0 1 632.0,0" class="grid"/>
<line x1="0" y1="0" x2="684.2" y2="-395.0" class="grid"/>
<line x1="0" y1="0" x2="395.0" y2="-684.2" class="grid"/>
<line x1="0" y1="0" x2="0.0" y2="-790.0" class="grid"/>
<line x1="0" y1="0" x2="-395.0" y2="-684.2" class="grid"/>
<line x1="0" y1="0" x2="-684.2" y2="-395.0" class="grid"/>
<line x1="787.0" y1="-68.9" x2="767.1" y2="-67.1" class="mtick"/>
<line x1="778.0" y1="-137.2" x2="758.3" y2="-133.7" class="mtick"/>
<line x1="763.1" y1="-204.5" x2="743.8" y2="-199.3" class="mtick"/>
<line x1="742.4" y1="-270.2" x2="723.6" y2="-263.4" class="mtick"/>
<line x1="716.0" y1="-333.9" x2="697.9" y2="-325.4" class="mtick"/>
<line x1="647.1" y1="-453.1" x2="630.7" y2="-441.7" class="mtick"/>
<line x1="605.2" y1="-507.8" x2="589.9" y2="-494.9" class="mtick"/>
<line x1="558.6" y1="-558.6" x2="544.5" y2="-544.5" class="mtick"/>
<line x1="507.8" y1="-605.2" x2="494.9" y2="-589.9" class="mtick"/>
<line x1="453.1" y1="-647.1" x2="441.7" y2="-630.7" class="mtick"/>
<line x1="333.9" y1="-716.0" x2="325.4" y2="-697.9" class="mtick"/>
<line x1="270.2" y1="-742.4" x2="263.4" y2="-723.6" class="mtick"/>
<line x1="204.5" y1="-763.1" x2="199.3" y2="-743.8" class="mtick"/>
<line x1="137.2" y1="-778.0" x2="133.7" y2="-758.3" class="mtick"/>
<line x1="68.9" y1="-787.0" x2="67.1" y2="-767.1" class="mtick"/>
<line x1="-68.9" y1="-787.0" x2="-67.1" y2="-767.1" class="mtick"/>
<line x1="-137.2" y1="-778.0" x2="-133.7" y2="-758.3" class="mtick"/>
<line x1="-204.5" y1="-763.1" x2="-199.3" y2="-743.8" class="mtick"/>
<line x1="-270.2" y1="-742.4" x2="-263.4" y2="-723.6" class="mtick"/>
<line x1="-333.9" y1="-716.0" x2="-325.4" y2="-697.9" class="mtick"/>
<line x1="-453.1" y1="-647.1" x2="-441.7" y2="-630.7" class="mtick"/>
<line x1="-507.8" y1="-605.2" x2="-494.9" y2="-589.9" class="mtick"/>
<line x1="-558.6" y1="-558.6" x2="-544.5" y2="-544.5" class="mtick"/>
<line x1="-605.2" y1="-507.8" x2="-589.9" y2="-494.9" class="mtick"/>
<line x1="-647.1" y1="-453.1" x2="-630.7" y2="-441.7" class="mtick"/>
<line x1="-716.0" y1="-333.9" x2="-697.9" y2="-325.4" class="mtick"/>
<line x1="-742.4" y1="-270.2" x2="-723.6" y2="-263.4" class="mtick"/>
<line x1="-763.1" y1="-204.5" x2="-743.8" y2="-199.3" class="mtick"/>
<line x1="-778.0" y1="-137.2" x2="-758.3" y2="-133.7" class="mtick"/>
<line x1="-787.0" y1="-68.9" x2="-767.1" y2="-67.1" class="mtick"/>
<line x1="687.6" y1="-397.0" x2="652.1" y2="-376.5" stroke="#000" stroke-width="6.2"/>
<line x1="397.0" y1="-687.6" x2="376.5" y2="-652.1" stroke="#000" stroke-width="9.5"/>
<line x1="0.0" y1="-795.5" x2="0.0" y2="-753.0" stroke="#000" stroke-width="11.0"/>
<line x1="-397.0" y1="-687.6" x2="-376.5" y2="-652.1" stroke="#000" stroke-width="9.5"/>
<line x1="-687.6" y1="-397.0" x2="-652.1" y2="-376.5" stroke="#000" stroke-width="6.2"/>
<line x1="39.5" y1="0" x2="39.5" y2="-21" class="btick"/>
<line x1="79.0" y1="0" x2="79.0" y2="-21" class="btick"/>
<line x1="118.5" y1="0" x2="118.5" y2="-21" class="btick"/>
<line x1="158.0" y1="0" x2="158.0" y2="-39" class="Btick"/>
<line x1="197.5" y1="0" x2="197.5" y2="-21" class="btick"/>
<line x1="237.0" y1="0" x2="237.0" y2="-21" class="btick"/>
<line x1="276.5" y1="0" x2="276.5" y2="-21" class="btick"/>
<line x1="316.0" y1="0" x2="316.0" y2="-39" class="Btick"/>
<line x1="355.5" y1="0" x2="355.5" y2="-21" class="btick"/>
<line x1="395.0" y1="0" x2="395.0" y2="-21" class="btick"/>
<line x1="434.5" y1="0" x2="434.5" y2="-21" class="btick"/>
<line x1="474.0" y1="0" x2="474.0" y2="-39" class="Btick"/>
<line x1="513.5" y1="0" x2="513.5" y2="-21" class="btick"/>
<line x1="553.0" y1="0" x2="553.0" y2="-21" class="btick"/>
<line x1="592.5" y1="0" x2="592.5" y2="-21" class="btick"/>
<line x1="632.0" y1="0" x2="632.0" y2="-39" class="Btick"/>
<line x1="671.5" y1="0" x2="671.5" y2="-21" class="btick"/>
<line x1="711.0" y1="0" x2="711.0" y2="-21" class="btick"/>
<line x1="750.5" y1="0" x2="750.5" y2="-21" class="btick"/>
<line x1="0" y1="0" x2="0" y2="-39" class="Btick"/>
<polygon fill="#000" points="794.5,-0.0 794.5,-6.9 794.4,-13.9 794.2,-20.8 794.0,-27.7 793.7,-34.7 793.4,-41.6 793.0,-48.5 792.6,-55.4 792.0,-62.3 791.5,-69.2 790.8,-76.1 790.1,-83.0 789.4,-89.9 788.5,-96.8 787.7,-103.7 786.7,-110.6 785.7,-117.4 784.6,-124.3 783.5,-131.1 782.3,-137.9 781.1,-144.8 779.8,-151.6 778.4,-158.4 777.0,-165.2 775.5,-171.9 774.0,-178.7 772.4,-185.4 770.7,-192.2 769.0,-198.9 767.2,-205.6 765.4,-212.3 763.5,-218.9 761.6,-225.6 759.5,-232.2 757.5,-238.8 755.3,-245.4 753.2,-252.0 750.9,-258.6 748.6,-265.1 746.3,-271.6 743.8,-278.1 741.4,-284.6 738.8,-291.0 736.3,-297.5 733.6,-303.9 730.9,-310.3 728.2,-316.6 725.4,-322.9 722.5,-329.3 719.6,-335.5 716.6,-341.8 713.6,-348.0 710.5,-354.2 707.3,-360.4 704.2,-366.6 700.9,-372.7 697.6,-378.8 694.3,-384.8 690.9,-390.9 687.4,-396.9 683.9,-402.8 680.3,-408.8 676.7,-414.7 673.0,-420.6 669.3,-426.4 665.6,-432.2 661.7,-438.0 657.9,-443.7 653.9,-449.4 650.0,-455.1 646.0,-460.8 641.9,-466.4 637.8,-471.9 633.6,-477.5 629.4,-482.9 625.1,-488.4 620.8,-493.8 616.5,-499.2 612.1,-504.5 607.6,-509.8 603.1,-515.1 598.6,-520.3 594.0,-525.5 589.4,-530.7 584.7,-535.8 580.0,-540.8 575.2,-545.8 570.4,-550.8 565.5,-555.8 560.6,-560.6 555.8,-565.5 550.8,-570.4 545.8,-575.2 540.8,-580.0 535.8,-584.7 530.7,-589.4 525.5,-594.0 520.3,-598.6 515.1,-603.1 509.8,-607.6 504.5,-612.1 499.2,-616.5 493.8,-620.8 488.4,-625.1 482.9,-629.4 477.5,-633.6 471.9,-637.8 466.4,-641.9 460.8,-646.0 455.1,-650.0 449.4,-653.9 443.7,-657.9 438.0,-661.7 432.2,-665.6 426.4,-669.3 420.6,-673.0 414.7,-676.7 408.8,-680.3 402.8,-683.9 396.9,-687.4 390.9,-690.9 384.8,-694.3 378.8,-697.6 372.7,-700.9 366.6,-704.2 360.4,-707.3 354.2,-710.5 348.0,-713.6 341.8,-716.6 335.5,-719.6 329.3,-722.5 322.9,-725.4 316.6,-728.2 310.3,-730.9 303.9,-733.6 297.5,-736.3 291.0,-738.8 284.6,-741.4 278.1,-743.8 271.6,-746.3 265.1,-748.6 258.6,-750.9 252.0,-753.2 245.4,-755.3 238.8,-757.5 232.2,-759.5 225.6,-761.6 218.9,-763.5 212.3,-765.4 205.6,-767.2 198.9,-769.0 192.2,-770.7 185.4,-772.4 178.7,-774.0 171.9,-775.5 165.2,-777.0 158.4,-778.4 151.6,-779.8 144.8,-781.1 137.9,-782.3 131.1,-783.5 124.3,-784.6 117.4,-785.7 110.6,-786.7 103.7,-787.7 96.8,-788.5 89.9,-789.4 83.0,-790.1 76.1,-790.8 69.2,-791.5 62.3,-792.0 55.4,-792.6 48.5,-793.0 41.6,-793.4 34.7,-793.7 27.7,-794.0 20.8,-794.2 13.9,-794.4 6.9,-794.5 0.0,-794.5 -6.9,-794.5 -13.9,-794.4 -20.8,-794.2 -27.7,-794.0 -34.7,-793.7 -41.6,-793.4 -48.5,-793.0 -55.4,-792.6 -62.3,-792.0 -69.2,-791.5 -76.1,-790.8 -83.0,-790.1 -89.9,-789.4 -96.8,-788.5 -103.7,-787.7 -110.6,-786.7 -117.4,-785.7 -124.3,-784.6 -131.1,-783.5 -137.9,-782.3 -144.8,-781.1 -151.6,-779.8 -158.4,-778.4 -165.2,-777.0 -171.9,-775.5 -178.7,-774.0 -185.4,-772.4 -192.2,-770.7 -198.9,-769.0 -205.6,-767.2 -212.3,-765.4 -218.9,-763.5 -225.6,-761.6 -232.2,-759.5 -238.8,-757.5 -245.4,-755.3 -252.0,-753.2 -258.6,-750.9 -265.1,-748.6 -271.6,-746.3 -278.1,-743.8 -284.6,-741.4 -291.0,-738.8 -297.5,-736.3 -303.9,-733.6 -310.3,-730.9 -316.6,-728.2 -322.9,-725.4 -329.3,-722.5 -335.5,-719.6 -341.8,-716.6 -348.0,-713.6 -354.2,-710.5 -360.4,-707.3 -366.6,-704.2 -372.7,-700.9 -378.8,-697.6 -384.8,-694.3 -390.9,-690.9 -396.9,-687.4 -402.8,-683.9 -408.8,-680.3 -414.7,-676.7 -420.6,-673.0 -426.4,-669.3 -432.2,-665.6 -438.0,-661.7 -443.7,-657.9 -449.4,-653.9 -455.1,-650.0 -460.8,-646.0 -466.4,-641.9 -471.9,-637.8 -477.5,-633.6 -482.9,-629.4 -488.4,-625.1 -493.8,-620.8 -499.2,-616.5 -504.5,-612.1 -509.8,-607.6 -515.1,-603.1 -520.3,-598.6 -525.5,-594.0 -530.7,-589.4 -535.8,-584.7 -540.8,-580.0 -545.8,-575.2 -550.8,-570.4 -555.8,-565.5 -560.6,-560.6 -565.5,-555.8 -570.4,-550.8 -575.2,-545.8 -580.0,-540.8 -584.7,-535.8 -589.4,-530.7 -594.0,-525.5 -598.6,-520.3 -603.1,-515.1 -607.6,-509.8 -612.1,-504.5 -616.5,-499.2 -620.8,-493.8 -625.1,-488.4 -629.4,-482.9 -633.6,-477.5 -637.8,-471.9 -641.9,-466.4 -646.0,-460.8 -650.0,-455.1 -653.9,-449.4 -657.9,-443.7 -661.7,-438.0 -665.6,-432.2 -669.3,-426.4 -673.0,-420.6 -676.7,-414.7 -680.3,-408.8 -683.9,-402.8 -687.4,-396.9 -690.9,-390.9 -694.3,-384.8 -697.6,-378.8 -700.9,-372.7 -704.2,-366.6 -707.3,-360.4 -710.5,-354.2 -713.6,-348.0 -716.6,-341.8 -719.6,-335.5 -722.5,-329.3 -725.4,-322.9 -728.2,-316.6 -730.9,-310.3 -733.6,-303.9 -736.3,-297.5 -738.8,-291.0 -741.4,-284.6 -743.8,-278.1 -746.3,-271.6 -748.6,-265.1 -750.9,-258.6 -753.2,-252.0 -755.3,-245.4 -757.5,-238.8 -759.5,-232.2 -761.6,-225.6 -763.5,-218.9 -765.4,-212.3 -767.2,-205.6 -769.0,-198.9 -770.7,-192.2 -772.4,-185.4 -774.0,-178.7 -775.5,-171.9 -777.0,-165.2 -778.4,-158.4 -779.8,-151.6 -781.1,-144.8 -782.3,-137.9 -783.5,-131.1 -784.6,-124.3 -785.7,-117.4 -786.7,-110.6 -787.7,-103.7 -788.5,-96.8 -789.4,-89.9 -790.1,-83.0 -790.8,-76.1 -791.5,-69.2 -792.0,-62.3 -792.6,-55.4 -793.0,-48.5 -793.4,-41.6 -793.7,-34.7 -794.0,-27.7 -794.2,-20.8 -794.4,-13.9 -794.5,-6.9 -794.5,-0.0 -785.5,-0.0 -785.5,-6.9 -785.4,-13.7 -785.2,-20.6 -785.0,-27.4 -784.8,-34.3 -784.4,-41.1 -784.0,-48.0 -783.6,-54.8 -783.1,-61.6 -782.5,-68.5 -781.9,-75.3 -781.2,-82.1 -780.5,-88.9 -779.7,-95.7 -778.8,-102.5 -777.9,-109.3 -776.9,-116.1 -775.9,-122.9 -774.8,-129.7 -773.7,-136.4 -772.4,-143.2 -771.2,-149.9 -769.8,-156.6 -768.5,-163.3 -767.0,-170.0 -765.5,-176.7 -764.0,-183.4 -762.3,-190.1 -760.7,-196.7 -758.9,-203.4 -757.1,-210.0 -755.3,-216.6 -753.4,-223.2 -751.4,-229.7 -749.4,-236.3 -747.3,-242.8 -745.2,-249.3 -743.0,-255.8 -740.8,-262.3 -738.5,-268.8 -736.1,-275.2 -733.7,-281.6 -731.2,-288.0 -728.7,-294.4 -726.1,-300.8 -723.5,-307.1 -720.8,-313.4 -718.0,-319.7 -715.2,-326.0 -712.4,-332.2 -709.5,-338.4 -706.5,-344.6 -703.5,-350.8 -700.4,-356.9 -697.3,-363.0 -694.1,-369.1 -690.9,-375.1 -687.6,-381.2 -684.3,-387.2 -680.9,-393.1 -677.5,-399.1 -674.0,-405.0 -670.5,-410.9 -666.9,-416.7 -663.2,-422.5 -659.5,-428.3 -655.8,-434.1 -652.0,-439.8 -648.2,-445.5 -644.3,-451.1 -640.3,-456.8 -636.4,-462.3 -632.3,-467.9 -628.2,-473.4 -624.1,-478.9 -619.9,-484.3 -615.7,-489.7 -611.4,-495.1 -607.1,-500.5 -602.7,-505.8 -598.3,-511.0 -593.9,-516.2 -589.4,-521.4 -584.8,-526.6 -580.2,-531.7 -575.6,-536.7 -570.9,-541.8 -566.2,-546.7 -561.4,-551.7 -556.6,-556.6 -551.7,-561.4 -546.7,-566.2 -541.8,-570.9 -536.7,-575.6 -531.7,-580.2 -526.6,-584.8 -521.4,-589.4 -516.2,-593.9 -511.0,-598.3 -505.8,-602.7 -500.5,-607.1 -495.1,-611.4 -489.7,-615.7 -484.3,-619.9 -478.9,-624.1 -473.4,-628.2 -467.9,-632.3 -462.3,-636.4 -456.8,-640.3 -451.1,-644.3 -445.5,-648.2 -439.8,-652.0 -434.1,-655.8 -428.3,-659.5 -422.5,-663.2 -416.7,-666.9 -410.9,-670.5 -405.0,-674.0 -399.1,-677.5 -393.1,-680.9 -387.2,-684.3 -381.2,-687.6 -375.1,-690.9 -369.1,-694.1 -363.0,-697.3 -356.9,-700.4 -350.8,-703.5 -344.6,-706.5 -338.4,-709.5 -332.2,-712.4 -326.0,-715.2 -319.7,-718.0 -313.4,-720.8 -307.1,-723.5 -300.8,-726.1 -294.4,-728.7 -288.0,-731.2 -281.6,-733.7 -275.2,-736.1 -268.8,-738.5 -262.3,-740.8 -255.8,-743.0 -249.3,-745.2 -242.8,-747.3 -236.3,-749.4 -229.7,-751.4 -223.2,-753.4 -216.6,-755.3 -210.0,-757.1 -203.4,-758.9 -196.7,-760.7 -190.1,-762.3 -183.4,-764.0 -176.7,-765.5 -170.0,-767.0 -163.3,-768.5 -156.6,-769.8 -149.9,-771.2 -143.2,-772.4 -136.4,-773.7 -129.7,-774.8 -122.9,-775.9 -116.1,-776.9 -109.3,-777.9 -102.5,-778.8 -95.7,-779.7 -88.9,-780.5 -82.1,-781.2 -75.3,-781.9 -68.5,-782.5 -61.6,-783.1 -54.8,-783.6 -48.0,-784.0 -41.1,-784.4 -34.3,-784.8 -27.4,-785.0 -20.6,-785.2 -13.7,-785.4 -6.9,-785.5 0.0,-785.5 6.9,-785.5 13.7,-785.4 20.6,-785.2 27.4,-785.0 34.3,-784.8 41.1,-784.4 48.0,-784.0 54.8,-783.6 61.6,-783.1 68.5,-782.5 75.3,-781.9 82.1,-781.2 88.9,-780.5 95.7,-779.7 102.5,-778.8 109.3,-777.9 116.1,-776.9 122.9,-775.9 129.7,-774.8 136.4,-773.7 143.2,-772.4 149.9,-771.2 156.6,-769.8 163.3,-768.5 170.0,-767.0 176.7,-765.5 183.4,-764.0 190.1,-762.3 196.7,-760.7 203.4,-758.9 210.0,-757.1 216.6,-755.3 223.2,-753.4 229.7,-751.4 236.3,-749.4 242.8,-747.3 249.3,-745.2 255.8,-743.0 262.3,-740.8 268.8,-738.5 275.2,-736.1 281.6,-733.7 288.0,-731.2 294.4,-728.7 300.8,-726.1 307.1,-723.5 313.4,-720.8 319.7,-718.0 326.0,-715.2 332.2,-712.4 338.4,-709.5 344.6,-706.5 350.8,-703.5 356.9,-700.4 363.0,-697.3 369.1,-694.1 375.1,-690.9 381.2,-687.6 387.2,-684.3 393.1,-680.9 399.1,-677.5 405.0,-674.0 410.9,-670.5 416.7,-666.9 422.5,-663.2 428.3,-659.5 434.1,-655.8 439.8,-652.0 445.5,-648.2 451.1,-644.3 456.8,-640.3 462.3,-636.4 467.9,-632.3 473.4,-628.2 478.9,-624.1 484.3,-619.9 489.7,-615.7 495.1,-611.4 500.5,-607.1 505.8,-602.7 511.0,-598.3 516.2,-593.9 521.4,-589.4 526.6,-584.8 531.7,-580.2 536.7,-575.6 541.8,-570.9 546.7,-566.2 551.7,-561.4 556.6,-556.6 561.4,-551.7 566.2,-546.7 570.9,-541.8 575.6,-536.7 580.2,-531.7 584.8,-526.6 589.4,-521.4 593.9,-516.2 598.3,-511.0 602.7,-505.8 607.1,-500.5 611.4,-495.1 615.7,-489.7 619.9,-484.3 624.1,-478.9 628.2,-473.4 632.3,-467.9 636.4,-462.3 640.3,-456.8 644.3,-451.1 648.2,-445.5 652.0,-439.8 655.8,-434.1 659.5,-428.3 663.2,-422.5 666.9,-416.7 670.5,-410.9 674.0,-405.0 677.5,-399.1 680.9,-393.1 684.3,-387.2 687.6,-381.2 690.9,-375.1 694.1,-369.1 697.3,-363.0 700.4,-356.9 703.5,-350.8 706.5,-344.6 709.5,-338.4 712.4,-332.2 715.2,-326.0 718.0,-319.7 720.8,-313.4 723.5,-307.1 726.1,-300.8 728.7,-294.4 731.2,-288.0 733.7,-281.6 736.1,-275.2 738.5,-268.8 740.8,-262.3 743.0,-255.8 745.2,-249.3 747.3,-242.8 749.4,-236.3 751.4,-229.7 753.4,-223.2 755.3,-216.6 757.1,-210.0 758.9,-203.4 760.7,-196.7 762.3,-190.1 764.0,-183.4 765.5,-176.7 767.0,-170.0 768.5,-163.3 769.8,-156.6 771.2,-149.9 772.4,-143.2 773.7,-136.4 774.8,-129.7 775.9,-122.9 776.9,-116.1 777.9,-109.3 778.8,-102.5 779.7,-95.7 780.5,-88.9 781.2,-82.1 781.9,-75.3 782.5,-68.5 783.1,-61.6 783.6,-54.8 784.0,-48.0 784.4,-41.1 784.8,-34.3 785.0,-27.4 785.2,-20.6 785.4,-13.7 785.5,-6.9 785.5,-0.0"/>
<line x1="-794.5" y1="0" x2="794.5" y2="0" class="base"/>
</g>
<polyline class="dsh" points="807.3,1580.9 821.7,1584.8"/>
<polyline class="dsh" points="842.7,1592.6 857.1,1601.8"/>
<polyline class="dsh" points="875.4,1609.7 891.1,1622.8"/>
<polyline class="dsh" points="909.5,1635.9 925.2,1654.2"/>
<polyline class="dsh" points="937.0,1672.0 944.8,1677.9"/>
<polyline class="dsh" points="958.6,1705.4 970.4,1717.2"/>
<polyline class="dsh" points="974.3,1739.8 982.2,1753.5"/>
<polyline class="dsh" points="1001.8,1715.2 1007.7,1725.0"/>
<polyline class="dsh" points="997.9,1727.0 999.8,1740.7"/>
<polyline class="dsh" points="986.1,1772.2 995.9,1760.4"/>
<polyline class="dsh" points="1050.9,1695.6 1061.7,1685.7"/>
<polyline class="dsh" points="1035.2,1764.3 1039.1,1753.5"/>
<polyline class="dsh" points="1098.1,1751.6 1099.1,1760.4"/>
<polyline class="dsh" points="1107.9,1776.1 1109.9,1784.0"/>
<polyline class="dsh" points="1088.3,1848.8 1094.1,1850.8"/>
<polyline class="dsh" points="1019.5,1782.0 1025.4,1791.8"/>
<polyline class="dsh" points="1123.6,1848.8 1141.3,1833.1"/>
<polyline class="dsh" points="1137.4,1860.0 1145.2,1848.8"/>
<polyline class="dsh" points="1149.2,1852.7 1162.9,1839.0"/>
<polyline class="dsh" points="1174.7,1854.7 1180.0,1835.0"/>
<polyline class="dsh" points="1322.5,1896.5 1337.2,1896.5"/>
<polyline class="dsh" points="1335.4,1916.7 1346.4,1909.4"/>
<polyline class="dsh" points="1324.3,1933.2 1339.0,1931.4"/>
<polyline class="dsh" points="1414.2,1990.0 1423.4,1993.7"/>
<polyline class="dsh" points="1443.5,1998.3 1456.4,1999.2"/>
<polyline class="dsh" points="1085.5,1875.2 1099.3,1879.1"/>
<polyline class="dsh" points="1099.3,1879.1 1115.0,1863.4"/>
<polyline class="dsh" points="1079.6,1905.7 1096.3,1896.8"/>
<polyline class="cl" stroke="#2a2aff" points="298.1,1996.4 308.6,1974.1 304.7,1946.6 308.6,1921.7 316.4,1896.9 320.4,1872.0 324.3,1848.4 330.9,1824.8 337.4,1798.6 347.9,1777.7 358.4,1754.1 367.5,1727.9 372.8,1705.6 389.8,1687.3 400.3,1663.7 412.1,1642.8 423.8,1619.2 446.1,1603.5 450.0,1576.0 463.1,1553.7 492.0,1543.2 526.0,1541.9 561.4,1543.2 595.4,1547.1 628.7,1555.0 659.3,1557.3 688.1,1561.2 714.3,1566.4 739.2,1573.0 764.1,1579.5 787.6,1586.1 812.5,1596.6 836.1,1608.4 862.3,1625.4 887.5,1646.0 912.4,1683.8 954.7,1785.9 955.6,1752.5 950.7,1679.8 962.5,1674.0 971.4,1660.2 982.2,1633.7 995.9,1633.7 1008.7,1666.1 1022.4,1753.5 1035.2,1729.0 1050.9,1670.0 1061.7,1652.3 1073.5,1660.2 1074.5,1727.0 1093.8,1727.5 1084.5,1801.6 1104.6,1772.6 1086.4,1845.3 1127.2,1758.3 1144.4,1752.5 1151.8,1787.3 1167.4,1784.4 1181.8,1783.9 1197.5,1782.9 1213.2,1778.9 1193.6,1820.2 1195.6,1832.0 1227.0,1811.4 1164.1,1885.0 1219.1,1845.7 1186.7,1886.0 1252.0,1841.7 1214.2,1893.9 1269.8,1866.3 1243.7,1894.9 1295.4,1877.7 1219.1,1934.1 1332.4,1910.9 1301.1,1926.1 1301.1,1946.0 1386.7,1931.4 1384.9,1962.5 1416.0,1967.1 1386.7,1986.4 1392.2,2002.9 1483.9,2006.5"/>
<rect class="mk" stroke="#2a2aff" x="287.4" y="1985.7" width="21.4" height="21.4" rx="7"/>
<rect class="mk" stroke="#2a2aff" x="297.9" y="1963.4" width="21.4" height="21.4" rx="7"/>
<rect class="mk" stroke="#2a2aff" x="294.0" y="1935.9" width="21.4" height="21.4" rx="7"/>
<rect class="mk" stroke="#2a2aff" x="297.9" y="1911.0" width="21.4" height="21.4" rx="7"/>
<rect class="mk" stroke="#2a2aff" x="305.7" y="1886.2" width="21.4" height="21.4" rx="7"/>
<rect class="mk" stroke="#2a2aff" x="309.7" y="1861.3" width="21.4" height="21.4" rx="7"/>
<rect class="mk" stroke="#2a2aff" x="313.6" y="1837.7" width="21.4" height="21.4" rx="7"/>
<rect class="mk" stroke="#2a2aff" x="320.2" y="1814.1" width="21.4" height="21.4" rx="7"/>
<rect class="mk" stroke="#2a2aff" x="326.7" y="1787.9" width="21.4" height="21.4" rx="7"/>
<rect class="mk" stroke="#2a2aff" x="337.2" y="1767.0" width="21.4" height="21.4" rx="7"/>
<rect class="mk" stroke="#2a2aff" x="347.7" y="1743.4" width="21.4" height="21.4" rx="7"/>
<rect class="mk" stroke="#2a2aff" x="356.8" y="1717.2" width="21.4" height="21.4" rx="7"/>
<rect class="mk" stroke="#2a2aff" x="362.1" y="1694.9" width="21.4" height="21.4" rx="7"/>
<rect class="mk" stroke="#2a2aff" x="379.1" y="1676.6" width="21.4" height="21.4" rx="7"/>
<rect class="mk" stroke="#2a2aff" x="389.6" y="1653.0" width="21.4" height="21.4" rx="7"/>
<rect class="mk" stroke="#2a2aff" x="401.4" y="1632.1" width="21.4" height="21.4" rx="7"/>
<rect class="mk" stroke="#2a2aff" x="413.1" y="1608.5" width="21.4" height="21.4" rx="7"/>
<rect class="mk" stroke="#2a2aff" x="435.4" y="1592.8" width="21.4" height="21.4" rx="7"/>
<rect class="mk" stroke="#2a2aff" x="439.3" y="1565.3" width="21.4" height="21.4" rx="7"/>
<rect class="mk" stroke="#2a2aff" x="452.4" y="1543.0" width="21.4" height="21.4" rx="7"/>
<rect class="mk" stroke="#2a2aff" x="481.3" y="1532.5" width="21.4" height="21.4" rx="7"/>
<rect class="mk" stroke="#2a2aff" x="515.3" y="1531.2" width="21.4" height="21.4" rx="7"/>
<rect class="mk" stroke="#2a2aff" x="550.7" y="1532.5" width="21.4" height="21.4" rx="7"/>
<rect class="mk" stroke="#2a2aff" x="584.7" y="1536.4" width="21.4" height="21.4" rx="7"/>
<rect class="mk" stroke="#2a2aff" x="618.0" y="1544.3" width="21.4" height="21.4" rx="7"/>
<rect class="mk" stroke="#2a2aff" x="648.6" y="1546.6" width="21.4" height="21.4" rx="7"/>
<rect class="mk" stroke="#2a2aff" x="677.4" y="1550.5" width="21.4" height="21.4" rx="7"/>
<rect class="mk" stroke="#2a2aff" x="703.6" y="1555.7" width="21.4" height="21.4" rx="7"/>
<rect class="mk" stroke="#2a2aff" x="728.5" y="1562.3" width="21.4" height="21.4" rx="7"/>
<rect class="mk" stroke="#2a2aff" x="753.4" y="1568.8" width="21.4" height="21.4" rx="7"/>
<rect class="mk" stroke="#2a2aff" x="776.9" y="1575.4" width="21.4" height="21.4" rx="7"/>
<rect class="mk" stroke="#2a2aff" x="801.8" y="1585.9" width="21.4" height="21.4" rx="7"/>
<rect class="mk" stroke="#2a2aff" x="825.4" y="1597.7" width="21.4" height="21.4" rx="7"/>
<rect class="mk" stroke="#2a2aff" x="851.6" y="1614.7" width="21.4" height="21.4" rx="7"/>
<rect class="mk" stroke="#2a2aff" x="876.8" y="1635.3" width="21.4" height="21.4" rx="7"/>
<rect class="mk" stroke="#2a2aff" x="901.7" y="1673.1" width="21.4" height="21.4" rx="7"/>
<rect class="mk" stroke="#2a2aff" x="944.0" y="1775.2" width="21.4" height="21.4" rx="7"/>
<rect class="mk" stroke="#2a2aff" x="944.9" y="1741.8" width="21.4" height="21.4" rx="7"/>
<rect class="mk" stroke="#2a2aff" x="940.0" y="1669.1" width="21.4" height="21.4" rx="7"/>
<rect class="mk" stroke="#2a2aff" x="951.8" y="1663.3" width="21.4" height="21.4" rx="7"/>
<rect class="mk" stroke="#2a2aff" x="960.7" y="1649.5" width="21.4" height="21.4" rx="7"/>
<rect class="mk" stroke="#2a2aff" x="971.5" y="1623.0" width="21.4" height="21.4" rx="7"/>
<rect class="mk" stroke="#2a2aff" x="985.2" y="1623.0" width="21.4" height="21.4" rx="7"/>
<rect class="mk" stroke="#2a2aff" x="998.0" y="1655.4" width="21.4" height="21.4" rx="7"/>
<rect class="mk" stroke="#2a2aff" x="1011.7" y="1742.8" width="21.4" height="21.4" rx="7"/>
<rect class="mk" stroke="#2a2aff" x="1024.5" y="1718.3" width="21.4" height="21.4" rx="7"/>
<rect class="mk" stroke="#2a2aff" x="1040.2" y="1659.3" width="21.4" height="21.4" rx="7"/>
<rect class="mk" stroke="#2a2aff" x="1051.0" y="1641.6" width="21.4" height="21.4" rx="7"/>
<rect class="mk" stroke="#2a2aff" x="1062.8" y="1649.5" width="21.4" height="21.4" rx="7"/>
<rect class="mk" stroke="#2a2aff" x="1063.8" y="1716.3" width="21.4" height="21.4" rx="7"/>
<rect class="mk" stroke="#2a2aff" x="1083.1" y="1716.8" width="21.4" height="21.4" rx="7"/>
<rect class="mk" stroke="#2a2aff" x="1073.8" y="1790.9" width="21.4" height="21.4" rx="7"/>
<rect class="mk" stroke="#2a2aff" x="1093.9" y="1761.9" width="21.4" height="21.4" rx="7"/>
<rect class="mk" stroke="#2a2aff" x="1075.7" y="1834.6" width="21.4" height="21.4" rx="7"/>
<rect class="mk" stroke="#2a2aff" x="1116.5" y="1747.6" width="21.4" height="21.4" rx="7"/>
<rect class="mk" stroke="#2a2aff" x="1133.7" y="1741.8" width="21.4" height="21.4" rx="7"/>
<rect class="mk" stroke="#2a2aff" x="1141.1" y="1776.6" width="21.4" height="21.4" rx="7"/>
<rect class="mk" stroke="#2a2aff" x="1156.7" y="1773.7" width="21.4" height="21.4" rx="7"/>
<rect class="mk" stroke="#2a2aff" x="1171.1" y="1773.2" width="21.4" height="21.4" rx="7"/>
<rect class="mk" stroke="#2a2aff" x="1186.8" y="1772.2" width="21.4" height="21.4" rx="7"/>
<rect class="mk" stroke="#2a2aff" x="1202.5" y="1768.2" width="21.4" height="21.4" rx="7"/>
<rect class="mk" stroke="#2a2aff" x="1182.9" y="1809.5" width="21.4" height="21.4" rx="7"/>
<rect class="mk" stroke="#2a2aff" x="1184.9" y="1821.3" width="21.4" height="21.4" rx="7"/>
<rect class="mk" stroke="#2a2aff" x="1216.3" y="1800.7" width="21.4" height="21.4" rx="7"/>
<rect class="mk" stroke="#2a2aff" x="1153.4" y="1874.3" width="21.4" height="21.4" rx="7"/>
<rect class="mk" stroke="#2a2aff" x="1208.4" y="1835.0" width="21.4" height="21.4" rx="7"/>
<rect class="mk" stroke="#2a2aff" x="1176.0" y="1875.3" width="21.4" height="21.4" rx="7"/>
<rect class="mk" stroke="#2a2aff" x="1241.3" y="1831.0" width="21.4" height="21.4" rx="7"/>
<rect class="mk" stroke="#2a2aff" x="1203.5" y="1883.2" width="21.4" height="21.4" rx="7"/>
<rect class="mk" stroke="#2a2aff" x="1259.1" y="1855.6" width="21.4" height="21.4" rx="7"/>
<rect class="mk" stroke="#2a2aff" x="1233.0" y="1884.2" width="21.4" height="21.4" rx="7"/>
<rect class="mk" stroke="#2a2aff" x="1284.7" y="1867.0" width="21.4" height="21.4" rx="7"/>
<rect class="mk" stroke="#2a2aff" x="1208.4" y="1923.4" width="21.4" height="21.4" rx="7"/>
<rect class="mk" stroke="#2a2aff" x="1321.7" y="1900.2" width="21.4" height="21.4" rx="7"/>
<rect class="mk" stroke="#2a2aff" x="1290.4" y="1915.4" width="21.4" height="21.4" rx="7"/>
<rect class="mk" stroke="#2a2aff" x="1290.4" y="1935.3" width="21.4" height="21.4" rx="7"/>
<rect class="mk" stroke="#2a2aff" x="1376.0" y="1920.7" width="21.4" height="21.4" rx="7"/>
<rect class="mk" stroke="#2a2aff" x="1374.2" y="1951.8" width="21.4" height="21.4" rx="7"/>
<rect class="mk" stroke="#2a2aff" x="1405.3" y="1956.4" width="21.4" height="21.4" rx="7"/>
<rect class="mk" stroke="#2a2aff" x="1376.0" y="1975.7" width="21.4" height="21.4" rx="7"/>
<rect class="mk" stroke="#2a2aff" x="1381.5" y="1992.2" width="21.4" height="21.4" rx="7"/>
<rect class="mk" stroke="#2a2aff" x="1473.2" y="1995.8" width="21.4" height="21.4" rx="7"/>
<polyline class="sol" points="306.6,1997.3 302.9,1961.4 305.6,1943.8 314.3,1926.1 313.5,1892.7 316.4,1855.4 323.3,1823.9 332.2,1802.3 343.9,1772.8 367.5,1737.5 371.4,1726.4 372.7,1703.2 383.2,1683.6 404.2,1662.6 406.8,1639.0 444.8,1599.7 447.4,1574.9 463.1,1556.5 477.5,1550.6 497.2,1546.0 528.1,1546.2 567.4,1550.9 606.7,1554.9 620.0,1555.8 659.3,1559.7 690.7,1562.4 732.6,1561.1 824.3,1562.4 845.3,1556.6 857.1,1561.1 871.5,1567.6 889.8,1561.1 909.5,1571.5 921.0,1561.0 944.2,1581.8 960.9,1563.1 968.8,1560.2 976.6,1563.1 992.3,1578.8 1002.2,1605.3 1010.0,1634.8 1015.9,1683.9 1018.9,1742.9 1022.8,1775.3 1027.7,1723.2 1030.6,1664.3 1033.6,1632.8 1047.3,1595.5 1068.0,1579.8 1076.8,1585.7 1084.7,1597.5 1086.6,1640.7 1110.2,1609.3 1117.1,1642.7 1135.8,1625.0 1138.7,1666.2 1161.3,1646.6 1173.1,1650.5 1178.0,1664.3 1182.9,1689.8 1199.1,1708.9 1214.8,1718.7 1238.4,1722.7 1248.2,1732.5 1242.3,1760.0 1275.7,1761.0 1250.2,1803.2 1293.4,1781.6 1275.7,1807.1 1299.3,1808.1 1283.6,1842.5 1291.5,1848.4 1324.9,1848.4 1256.5,1911.3 1302.3,1896.6 1313.3,1903.0 1394.0,1902.1 1324.3,1947.9 1405.0,1936.9 1423.4,1939.7 1463.7,1960.8 1462.8,1977.3 1467.4,2004.8"/>
<text x="1024.7" y="1210.3" text-anchor="middle" class="dg">90</text>
<text x="570.3" y="1330.9" text-anchor="middle" class="dg">120</text>
<text x="1450.2" y="1319.2" text-anchor="middle" class="dg">60</text>
<text x="266.0" y="1627.9" text-anchor="middle" class="dg">150</text>
<text x="1769.8" y="1620.5" text-anchor="middle" class="dg">30</text>
<text x="156.8" y="2045.7" text-anchor="middle" class="dg">180</text>
<text x="1860.2" y="2043.0" text-anchor="middle">0</text>
<text x="1023.3" y="2097.3" text-anchor="middle">0</text>
<text x="1339.7" y="2097.3" text-anchor="middle" class="dg">40</text>
<text x="1658.5" y="2097.3" text-anchor="middle" class="dg">80</text>
<text x="1414.4" y="2166.6" text-anchor="middle">SPL (dB)</text>
<text x="1905" y="1821.8"><tspan class="i">θ</tspan> (deg.)</text>
<text x="1.5" y="1217.4" class="pl">(<tspan class="i">b</tspan>)</text>
<g transform="translate(1025.5,3164.6) scale(1.00291,1.00101)">
<path d="M-158.0,0 A158.0,158.0 0 0 1 158.0,0" class="grid"/>
<path d="M-316.0,0 A316.0,316.0 0 0 1 316.0,0" class="grid"/>
<path d="M-474.0,0 A474.0,474.0 0 0 1 474.0,0" class="grid"/>
<path d="M-632.0,0 A632.0,632.0 0 0 1 632.0,0" class="grid"/>
<line x1="0" y1="0" x2="684.2" y2="-395.0" class="grid"/>
<line x1="0" y1="0" x2="395.0" y2="-684.2" class="grid"/>
<line x1="0" y1="0" x2="0.0" y2="-790.0" class="grid"/>
<line x1="0" y1="0" x2="-395.0" y2="-684.2" class="grid"/>
<line x1="0" y1="0" x2="-684.2" y2="-395.0" class="grid"/>
<line x1="787.0" y1="-68.9" x2="767.1" y2="-67.1" class="mtick"/>
<line x1="778.0" y1="-137.2" x2="758.3" y2="-133.7" class="mtick"/>
<line x1="763.1" y1="-204.5" x2="743.8" y2="-199.3" class="mtick"/>
<line x1="742.4" y1="-270.2" x2="723.6" y2="-263.4" class="mtick"/>
<line x1="716.0" y1="-333.9" x2="697.9" y2="-325.4" class="mtick"/>
<line x1="647.1" y1="-453.1" x2="630.7" y2="-441.7" class="mtick"/>
<line x1="605.2" y1="-507.8" x2="589.9" y2="-494.9" class="mtick"/>
<line x1="558.6" y1="-558.6" x2="544.5" y2="-544.5" class="mtick"/>
<line x1="507.8" y1="-605.2" x2="494.9" y2="-589.9" class="mtick"/>
<line x1="453.1" y1="-647.1" x2="441.7" y2="-630.7" class="mtick"/>
<line x1="333.9" y1="-716.0" x2="325.4" y2="-697.9" class="mtick"/>
<line x1="270.2" y1="-742.4" x2="263.4" y2="-723.6" class="mtick"/>
<line x1="204.5" y1="-763.1" x2="199.3" y2="-743.8" class="mtick"/>
<line x1="137.2" y1="-778.0" x2="133.7" y2="-758.3" class="mtick"/>
<line x1="68.9" y1="-787.0" x2="67.1" y2="-767.1" class="mtick"/>
<line x1="-68.9" y1="-787.0" x2="-67.1" y2="-767.1" class="mtick"/>
<line x1="-137.2" y1="-778.0" x2="-133.7" y2="-758.3" class="mtick"/>
<line x1="-204.5" y1="-763.1" x2="-199.3" y2="-743.8" class="mtick"/>
<line x1="-270.2" y1="-742.4" x2="-263.4" y2="-723.6" class="mtick"/>
<line x1="-333.9" y1="-716.0" x2="-325.4" y2="-697.9" class="mtick"/>
<line x1="-453.1" y1="-647.1" x2="-441.7" y2="-630.7" class="mtick"/>
<line x1="-507.8" y1="-605.2" x2="-494.9" y2="-589.9" class="mtick"/>
<line x1="-558.6" y1="-558.6" x2="-544.5" y2="-544.5" class="mtick"/>
<line x1="-605.2" y1="-507.8" x2="-589.9" y2="-494.9" class="mtick"/>
<line x1="-647.1" y1="-453.1" x2="-630.7" y2="-441.7" class="mtick"/>
<line x1="-716.0" y1="-333.9" x2="-697.9" y2="-325.4" class="mtick"/>
<line x1="-742.4" y1="-270.2" x2="-723.6" y2="-263.4" class="mtick"/>
<line x1="-763.1" y1="-204.5" x2="-743.8" y2="-199.3" class="mtick"/>
<line x1="-778.0" y1="-137.2" x2="-758.3" y2="-133.7" class="mtick"/>
<line x1="-787.0" y1="-68.9" x2="-767.1" y2="-67.1" class="mtick"/>
<line x1="687.6" y1="-397.0" x2="652.1" y2="-376.5" stroke="#000" stroke-width="6.2"/>
<line x1="397.0" y1="-687.6" x2="376.5" y2="-652.1" stroke="#000" stroke-width="9.5"/>
<line x1="0.0" y1="-795.5" x2="0.0" y2="-753.0" stroke="#000" stroke-width="11.0"/>
<line x1="-397.0" y1="-687.6" x2="-376.5" y2="-652.1" stroke="#000" stroke-width="9.5"/>
<line x1="-687.6" y1="-397.0" x2="-652.1" y2="-376.5" stroke="#000" stroke-width="6.2"/>
<line x1="39.5" y1="0" x2="39.5" y2="-21" class="btick"/>
<line x1="79.0" y1="0" x2="79.0" y2="-21" class="btick"/>
<line x1="118.5" y1="0" x2="118.5" y2="-21" class="btick"/>
<line x1="158.0" y1="0" x2="158.0" y2="-39" class="Btick"/>
<line x1="197.5" y1="0" x2="197.5" y2="-21" class="btick"/>
<line x1="237.0" y1="0" x2="237.0" y2="-21" class="btick"/>
<line x1="276.5" y1="0" x2="276.5" y2="-21" class="btick"/>
<line x1="316.0" y1="0" x2="316.0" y2="-39" class="Btick"/>
<line x1="355.5" y1="0" x2="355.5" y2="-21" class="btick"/>
<line x1="395.0" y1="0" x2="395.0" y2="-21" class="btick"/>
<line x1="434.5" y1="0" x2="434.5" y2="-21" class="btick"/>
<line x1="474.0" y1="0" x2="474.0" y2="-39" class="Btick"/>
<line x1="513.5" y1="0" x2="513.5" y2="-21" class="btick"/>
<line x1="553.0" y1="0" x2="553.0" y2="-21" class="btick"/>
<line x1="592.5" y1="0" x2="592.5" y2="-21" class="btick"/>
<line x1="632.0" y1="0" x2="632.0" y2="-39" class="Btick"/>
<line x1="671.5" y1="0" x2="671.5" y2="-21" class="btick"/>
<line x1="711.0" y1="0" x2="711.0" y2="-21" class="btick"/>
<line x1="750.5" y1="0" x2="750.5" y2="-21" class="btick"/>
<line x1="0" y1="0" x2="0" y2="-39" class="Btick"/>
<polygon fill="#000" points="794.5,-0.0 794.5,-6.9 794.4,-13.9 794.2,-20.8 794.0,-27.7 793.7,-34.7 793.4,-41.6 793.0,-48.5 792.6,-55.4 792.0,-62.3 791.5,-69.2 790.8,-76.1 790.1,-83.0 789.4,-89.9 788.5,-96.8 787.7,-103.7 786.7,-110.6 785.7,-117.4 784.6,-124.3 783.5,-131.1 782.3,-137.9 781.1,-144.8 779.8,-151.6 778.4,-158.4 777.0,-165.2 775.5,-171.9 774.0,-178.7 772.4,-185.4 770.7,-192.2 769.0,-198.9 767.2,-205.6 765.4,-212.3 763.5,-218.9 761.6,-225.6 759.5,-232.2 757.5,-238.8 755.3,-245.4 753.2,-252.0 750.9,-258.6 748.6,-265.1 746.3,-271.6 743.8,-278.1 741.4,-284.6 738.8,-291.0 736.3,-297.5 733.6,-303.9 730.9,-310.3 728.2,-316.6 725.4,-322.9 722.5,-329.3 719.6,-335.5 716.6,-341.8 713.6,-348.0 710.5,-354.2 707.3,-360.4 704.2,-366.6 700.9,-372.7 697.6,-378.8 694.3,-384.8 690.9,-390.9 687.4,-396.9 683.9,-402.8 680.3,-408.8 676.7,-414.7 673.0,-420.6 669.3,-426.4 665.6,-432.2 661.7,-438.0 657.9,-443.7 653.9,-449.4 650.0,-455.1 646.0,-460.8 641.9,-466.4 637.8,-471.9 633.6,-477.5 629.4,-482.9 625.1,-488.4 620.8,-493.8 616.5,-499.2 612.1,-504.5 607.6,-509.8 603.1,-515.1 598.6,-520.3 594.0,-525.5 589.4,-530.7 584.7,-535.8 580.0,-540.8 575.2,-545.8 570.4,-550.8 565.5,-555.8 560.6,-560.6 555.8,-565.5 550.8,-570.4 545.8,-575.2 540.8,-580.0 535.8,-584.7 530.7,-589.4 525.5,-594.0 520.3,-598.6 515.1,-603.1 509.8,-607.6 504.5,-612.1 499.2,-616.5 493.8,-620.8 488.4,-625.1 482.9,-629.4 477.5,-633.6 471.9,-637.8 466.4,-641.9 460.8,-646.0 455.1,-650.0 449.4,-653.9 443.7,-657.9 438.0,-661.7 432.2,-665.6 426.4,-669.3 420.6,-673.0 414.7,-676.7 408.8,-680.3 402.8,-683.9 396.9,-687.4 390.9,-690.9 384.8,-694.3 378.8,-697.6 372.7,-700.9 366.6,-704.2 360.4,-707.3 354.2,-710.5 348.0,-713.6 341.8,-716.6 335.5,-719.6 329.3,-722.5 322.9,-725.4 316.6,-728.2 310.3,-730.9 303.9,-733.6 297.5,-736.3 291.0,-738.8 284.6,-741.4 278.1,-743.8 271.6,-746.3 265.1,-748.6 258.6,-750.9 252.0,-753.2 245.4,-755.3 238.8,-757.5 232.2,-759.5 225.6,-761.6 218.9,-763.5 212.3,-765.4 205.6,-767.2 198.9,-769.0 192.2,-770.7 185.4,-772.4 178.7,-774.0 171.9,-775.5 165.2,-777.0 158.4,-778.4 151.6,-779.8 144.8,-781.1 137.9,-782.3 131.1,-783.5 124.3,-784.6 117.4,-785.7 110.6,-786.7 103.7,-787.7 96.8,-788.5 89.9,-789.4 83.0,-790.1 76.1,-790.8 69.2,-791.5 62.3,-792.0 55.4,-792.6 48.5,-793.0 41.6,-793.4 34.7,-793.7 27.7,-794.0 20.8,-794.2 13.9,-794.4 6.9,-794.5 0.0,-794.5 -6.9,-794.5 -13.9,-794.4 -20.8,-794.2 -27.7,-794.0 -34.7,-793.7 -41.6,-793.4 -48.5,-793.0 -55.4,-792.6 -62.3,-792.0 -69.2,-791.5 -76.1,-790.8 -83.0,-790.1 -89.9,-789.4 -96.8,-788.5 -103.7,-787.7 -110.6,-786.7 -117.4,-785.7 -124.3,-784.6 -131.1,-783.5 -137.9,-782.3 -144.8,-781.1 -151.6,-779.8 -158.4,-778.4 -165.2,-777.0 -171.9,-775.5 -178.7,-774.0 -185.4,-772.4 -192.2,-770.7 -198.9,-769.0 -205.6,-767.2 -212.3,-765.4 -218.9,-763.5 -225.6,-761.6 -232.2,-759.5 -238.8,-757.5 -245.4,-755.3 -252.0,-753.2 -258.6,-750.9 -265.1,-748.6 -271.6,-746.3 -278.1,-743.8 -284.6,-741.4 -291.0,-738.8 -297.5,-736.3 -303.9,-733.6 -310.3,-730.9 -316.6,-728.2 -322.9,-725.4 -329.3,-722.5 -335.5,-719.6 -341.8,-716.6 -348.0,-713.6 -354.2,-710.5 -360.4,-707.3 -366.6,-704.2 -372.7,-700.9 -378.8,-697.6 -384.8,-694.3 -390.9,-690.9 -396.9,-687.4 -402.8,-683.9 -408.8,-680.3 -414.7,-676.7 -420.6,-673.0 -426.4,-669.3 -432.2,-665.6 -438.0,-661.7 -443.7,-657.9 -449.4,-653.9 -455.1,-650.0 -460.8,-646.0 -466.4,-641.9 -471.9,-637.8 -477.5,-633.6 -482.9,-629.4 -488.4,-625.1 -493.8,-620.8 -499.2,-616.5 -504.5,-612.1 -509.8,-607.6 -515.1,-603.1 -520.3,-598.6 -525.5,-594.0 -530.7,-589.4 -535.8,-584.7 -540.8,-580.0 -545.8,-575.2 -550.8,-570.4 -555.8,-565.5 -560.6,-560.6 -565.5,-555.8 -570.4,-550.8 -575.2,-545.8 -580.0,-540.8 -584.7,-535.8 -589.4,-530.7 -594.0,-525.5 -598.6,-520.3 -603.1,-515.1 -607.6,-509.8 -612.1,-504.5 -616.5,-499.2 -620.8,-493.8 -625.1,-488.4 -629.4,-482.9 -633.6,-477.5 -637.8,-471.9 -641.9,-466.4 -646.0,-460.8 -650.0,-455.1 -653.9,-449.4 -657.9,-443.7 -661.7,-438.0 -665.6,-432.2 -669.3,-426.4 -673.0,-420.6 -676.7,-414.7 -680.3,-408.8 -683.9,-402.8 -687.4,-396.9 -690.9,-390.9 -694.3,-384.8 -697.6,-378.8 -700.9,-372.7 -704.2,-366.6 -707.3,-360.4 -710.5,-354.2 -713.6,-348.0 -716.6,-341.8 -719.6,-335.5 -722.5,-329.3 -725.4,-322.9 -728.2,-316.6 -730.9,-310.3 -733.6,-303.9 -736.3,-297.5 -738.8,-291.0 -741.4,-284.6 -743.8,-278.1 -746.3,-271.6 -748.6,-265.1 -750.9,-258.6 -753.2,-252.0 -755.3,-245.4 -757.5,-238.8 -759.5,-232.2 -761.6,-225.6 -763.5,-218.9 -765.4,-212.3 -767.2,-205.6 -769.0,-198.9 -770.7,-192.2 -772.4,-185.4 -774.0,-178.7 -775.5,-171.9 -777.0,-165.2 -778.4,-158.4 -779.8,-151.6 -781.1,-144.8 -782.3,-137.9 -783.5,-131.1 -784.6,-124.3 -785.7,-117.4 -786.7,-110.6 -787.7,-103.7 -788.5,-96.8 -789.4,-89.9 -790.1,-83.0 -790.8,-76.1 -791.5,-69.2 -792.0,-62.3 -792.6,-55.4 -793.0,-48.5 -793.4,-41.6 -793.7,-34.7 -794.0,-27.7 -794.2,-20.8 -794.4,-13.9 -794.5,-6.9 -794.5,-0.0 -785.5,-0.0 -785.5,-6.9 -785.4,-13.7 -785.2,-20.6 -785.0,-27.4 -784.8,-34.3 -784.4,-41.1 -784.0,-48.0 -783.6,-54.8 -783.1,-61.6 -782.5,-68.5 -781.9,-75.3 -781.2,-82.1 -780.5,-88.9 -779.7,-95.7 -778.8,-102.5 -777.9,-109.3 -776.9,-116.1 -775.9,-122.9 -774.8,-129.7 -773.7,-136.4 -772.4,-143.2 -771.2,-149.9 -769.8,-156.6 -768.5,-163.3 -767.0,-170.0 -765.5,-176.7 -764.0,-183.4 -762.3,-190.1 -760.7,-196.7 -758.9,-203.4 -757.1,-210.0 -755.3,-216.6 -753.4,-223.2 -751.4,-229.7 -749.4,-236.3 -747.3,-242.8 -745.2,-249.3 -743.0,-255.8 -740.8,-262.3 -738.5,-268.8 -736.1,-275.2 -733.7,-281.6 -731.2,-288.0 -728.7,-294.4 -726.1,-300.8 -723.5,-307.1 -720.8,-313.4 -718.0,-319.7 -715.2,-326.0 -712.4,-332.2 -709.5,-338.4 -706.5,-344.6 -703.5,-350.8 -700.4,-356.9 -697.3,-363.0 -694.1,-369.1 -690.9,-375.1 -687.6,-381.2 -684.3,-387.2 -680.9,-393.1 -677.5,-399.1 -674.0,-405.0 -670.5,-410.9 -666.9,-416.7 -663.2,-422.5 -659.5,-428.3 -655.8,-434.1 -652.0,-439.8 -648.2,-445.5 -644.3,-451.1 -640.3,-456.8 -636.4,-462.3 -632.3,-467.9 -628.2,-473.4 -624.1,-478.9 -619.9,-484.3 -615.7,-489.7 -611.4,-495.1 -607.1,-500.5 -602.7,-505.8 -598.3,-511.0 -593.9,-516.2 -589.4,-521.4 -584.8,-526.6 -580.2,-531.7 -575.6,-536.7 -570.9,-541.8 -566.2,-546.7 -561.4,-551.7 -556.6,-556.6 -551.7,-561.4 -546.7,-566.2 -541.8,-570.9 -536.7,-575.6 -531.7,-580.2 -526.6,-584.8 -521.4,-589.4 -516.2,-593.9 -511.0,-598.3 -505.8,-602.7 -500.5,-607.1 -495.1,-611.4 -489.7,-615.7 -484.3,-619.9 -478.9,-624.1 -473.4,-628.2 -467.9,-632.3 -462.3,-636.4 -456.8,-640.3 -451.1,-644.3 -445.5,-648.2 -439.8,-652.0 -434.1,-655.8 -428.3,-659.5 -422.5,-663.2 -416.7,-666.9 -410.9,-670.5 -405.0,-674.0 -399.1,-677.5 -393.1,-680.9 -387.2,-684.3 -381.2,-687.6 -375.1,-690.9 -369.1,-694.1 -363.0,-697.3 -356.9,-700.4 -350.8,-703.5 -344.6,-706.5 -338.4,-709.5 -332.2,-712.4 -326.0,-715.2 -319.7,-718.0 -313.4,-720.8 -307.1,-723.5 -300.8,-726.1 -294.4,-728.7 -288.0,-731.2 -281.6,-733.7 -275.2,-736.1 -268.8,-738.5 -262.3,-740.8 -255.8,-743.0 -249.3,-745.2 -242.8,-747.3 -236.3,-749.4 -229.7,-751.4 -223.2,-753.4 -216.6,-755.3 -210.0,-757.1 -203.4,-758.9 -196.7,-760.7 -190.1,-762.3 -183.4,-764.0 -176.7,-765.5 -170.0,-767.0 -163.3,-768.5 -156.6,-769.8 -149.9,-771.2 -143.2,-772.4 -136.4,-773.7 -129.7,-774.8 -122.9,-775.9 -116.1,-776.9 -109.3,-777.9 -102.5,-778.8 -95.7,-779.7 -88.9,-780.5 -82.1,-781.2 -75.3,-781.9 -68.5,-782.5 -61.6,-783.1 -54.8,-783.6 -48.0,-784.0 -41.1,-784.4 -34.3,-784.8 -27.4,-785.0 -20.6,-785.2 -13.7,-785.4 -6.9,-785.5 0.0,-785.5 6.9,-785.5 13.7,-785.4 20.6,-785.2 27.4,-785.0 34.3,-784.8 41.1,-784.4 48.0,-784.0 54.8,-783.6 61.6,-783.1 68.5,-782.5 75.3,-781.9 82.1,-781.2 88.9,-780.5 95.7,-779.7 102.5,-778.8 109.3,-777.9 116.1,-776.9 122.9,-775.9 129.7,-774.8 136.4,-773.7 143.2,-772.4 149.9,-771.2 156.6,-769.8 163.3,-768.5 170.0,-767.0 176.7,-765.5 183.4,-764.0 190.1,-762.3 196.7,-760.7 203.4,-758.9 210.0,-757.1 216.6,-755.3 223.2,-753.4 229.7,-751.4 236.3,-749.4 242.8,-747.3 249.3,-745.2 255.8,-743.0 262.3,-740.8 268.8,-738.5 275.2,-736.1 281.6,-733.7 288.0,-731.2 294.4,-728.7 300.8,-726.1 307.1,-723.5 313.4,-720.8 319.7,-718.0 326.0,-715.2 332.2,-712.4 338.4,-709.5 344.6,-706.5 350.8,-703.5 356.9,-700.4 363.0,-697.3 369.1,-694.1 375.1,-690.9 381.2,-687.6 387.2,-684.3 393.1,-680.9 399.1,-677.5 405.0,-674.0 410.9,-670.5 416.7,-666.9 422.5,-663.2 428.3,-659.5 434.1,-655.8 439.8,-652.0 445.5,-648.2 451.1,-644.3 456.8,-640.3 462.3,-636.4 467.9,-632.3 473.4,-628.2 478.9,-624.1 484.3,-619.9 489.7,-615.7 495.1,-611.4 500.5,-607.1 505.8,-602.7 511.0,-598.3 516.2,-593.9 521.4,-589.4 526.6,-584.8 531.7,-580.2 536.7,-575.6 541.8,-570.9 546.7,-566.2 551.7,-561.4 556.6,-556.6 561.4,-551.7 566.2,-546.7 570.9,-541.8 575.6,-536.7 580.2,-531.7 584.8,-526.6 589.4,-521.4 593.9,-516.2 598.3,-511.0 602.7,-505.8 607.1,-500.5 611.4,-495.1 615.7,-489.7 619.9,-484.3 624.1,-478.9 628.2,-473.4 632.3,-467.9 636.4,-462.3 640.3,-456.8 644.3,-451.1 648.2,-445.5 652.0,-439.8 655.8,-434.1 659.5,-428.3 663.2,-422.5 666.9,-416.7 670.5,-410.9 674.0,-405.0 677.5,-399.1 680.9,-393.1 684.3,-387.2 687.6,-381.2 690.9,-375.1 694.1,-369.1 697.3,-363.0 700.4,-356.9 703.5,-350.8 706.5,-344.6 709.5,-338.4 712.4,-332.2 715.2,-326.0 718.0,-319.7 720.8,-313.4 723.5,-307.1 726.1,-300.8 728.7,-294.4 731.2,-288.0 733.7,-281.6 736.1,-275.2 738.5,-268.8 740.8,-262.3 743.0,-255.8 745.2,-249.3 747.3,-242.8 749.4,-236.3 751.4,-229.7 753.4,-223.2 755.3,-216.6 757.1,-210.0 758.9,-203.4 760.7,-196.7 762.3,-190.1 764.0,-183.4 765.5,-176.7 767.0,-170.0 768.5,-163.3 769.8,-156.6 771.2,-149.9 772.4,-143.2 773.7,-136.4 774.8,-129.7 775.9,-122.9 776.9,-116.1 777.9,-109.3 778.8,-102.5 779.7,-95.7 780.5,-88.9 781.2,-82.1 781.9,-75.3 782.5,-68.5 783.1,-61.6 783.6,-54.8 784.0,-48.0 784.4,-41.1 784.8,-34.3 785.0,-27.4 785.2,-20.6 785.4,-13.7 785.5,-6.9 785.5,-0.0"/>
<line x1="-794.5" y1="0" x2="794.5" y2="0" class="base"/>
</g>
<polyline class="dsh" points="272.9,3136.4 288.6,3128.5"/>
<polyline class="dsh" points="645.0,2707.0 660.0,2712.0"/>
<polyline class="dsh" points="692.0,2720.0 705.0,2726.0"/>
<polyline class="dsh" points="727.0,2733.0 738.0,2740.0"/>
<polyline class="dsh" points="760.0,2750.0 770.0,2757.0"/>
<polyline class="dsh" points="792.0,2768.0 800.0,2775.0"/>
<polyline class="dsh" points="823.9,2783.7 837.1,2787.6"/>
<polyline class="dsh" points="858.0,2769.3 859.3,2783.7"/>
<polyline class="dsh" points="868.5,2757.5 884.2,2748.4"/>
<polyline class="dsh" points="896.0,2740.5 906.5,2737.9"/>
<polyline class="dsh" points="964.1,2720.9 979.8,2720.9"/>
<polyline class="dsh" points="900.0,2706.0 909.0,2707.0"/>
<polyline class="dsh" points="1061.1,2776.3 1077.8,2778.2"/>
<polyline class="dsh" points="1044.4,2805.7 1052.3,2797.9"/>
<polyline class="dsh" points="1086.6,2831.3 1087.6,2847.0"/>
<polyline class="dsh" points="1088.6,2864.7 1084.7,2880.4"/>
<polyline class="dsh" points="1085.7,2898.1 1085.7,2913.8"/>
<polyline class="dsh" points="1093.5,2917.7 1084.7,2931.5"/>
<polyline class="dsh" points="1108.3,2882.4 1098.4,2898.1"/>
<polyline class="dsh" points="1120.0,2890.2 1125.9,2900.0"/>
<polyline class="dsh" points="1125.9,2900.0 1118.1,2913.8"/>
<polyline class="dsh" points="1124.0,2860.7 1122.0,2870.6"/>
<polyline class="dsh" points="1145.6,2864.7 1135.8,2878.4"/>
<polyline class="dsh" points="1145.6,2864.7 1149.5,2884.3"/>
<polyline class="dsh" points="1179.0,2864.7 1165.2,2874.5"/>
<polyline class="dsh" points="1182.9,2880.4 1179.0,2894.2"/>
<polyline class="dsh" points="1206.4,2887.7 1192.7,2899.5"/>
<polyline class="dsh" points="1216.3,2962.4 1222.2,2956.5"/>
<polyline class="dsh" points="1235.9,2952.5 1241.8,2948.6"/>
<polyline class="dsh" points="1230.0,3015.4 1235.9,3003.6"/>
<polyline class="dsh" points="1198.6,3044.9 1214.3,3031.1"/>
<polyline class="dsh" points="1312.5,3023.3 1328.3,3019.3"/>
<polyline class="dsh" points="1347.9,3054.7 1359.7,3048.8"/>
<polyline class="dsh" points="1315.0,3066.9 1324.2,3055.9"/>
<polyline class="dsh" points="1403.0,3090.7 1410.4,3070.0"/>
<polyline class="cl" stroke="#00cc00" points="240.1,3136.4 305.6,3115.4 301.7,3087.9 318.7,3065.7 322.6,3040.8 317.4,3014.6 322.6,2989.7 329.2,2964.8 335.7,2939.9 346.2,2917.7 365.9,2898.0 373.7,2874.4 371.1,2844.3 390.7,2826.0 403.8,2803.7 410.4,2778.8 426.1,2760.5 451.0,2744.8 448.4,2710.7 465.4,2691.1 494.2,2685.8 530.9,2688.5 572.8,2693.7 609.3,2702.7 645.8,2716.9 681.2,2724.8 715.3,2736.6 748.0,2752.3 779.4,2770.6 806.9,2785.0 817.0,2776.0 827.0,2765.0 837.5,2748.0 850.0,2736.0 864.0,2729.0 879.0,2723.0 895.0,2720.0 912.0,2721.5 930.0,2721.0 948.7,2730.0 966.0,2735.0 981.0,2735.0 995.4,2750.8 1013.0,2784.1 1025.7,2825.4 1038.0,2852.0 1049.3,2854.9 1058.0,2853.9 1074.9,2807.7 1091.6,2794.0 1100.4,2819.5 1114.1,2795.9 1122.9,2797.2 1131.8,2798.5 1140.2,2797.2 1148.5,2795.9 1154.2,2801.7 1160.0,2807.5 1167.5,2806.6 1175.0,2805.7 1181.9,2805.6 1188.8,2805.5 1193.9,2813.8 1199.0,2822.0 1203.7,2830.3 1208.4,2838.6 1215.3,2842.5 1222.2,2846.4 1224.2,2858.2 1226.1,2870.0 1227.1,2877.8 1228.1,2885.7 1228.5,2895.6 1229.0,2905.4 1225.5,2918.7 1222.0,2932.0 1228.5,2933.9 1235.0,2935.8 1234.3,2944.3 1233.6,2952.8 1202.8,2991.7 1226.5,2986.0 1192.9,3025.8 1257.4,2984.2 1248.3,3014.5 1296.7,2995.5 1201.3,3062.3 1275.8,3028.8 1212.3,3082.4 1289.4,3063.2 1307.7,3065.0 1293.0,3081.5 1393.8,3073.3 1388.4,3099.9 1423.7,3108.2 1390.6,3125.2 1391.5,3142.5 1480.1,3148.4"/>
<rect class="mk" stroke="#00cc00" x="229.4" y="3125.7" width="21.4" height="21.4" rx="7"/>
<rect class="mk" stroke="#00cc00" x="294.9" y="3104.7" width="21.4" height="21.4" rx="7"/>
<rect class="mk" stroke="#00cc00" x="291.0" y="3077.2" width="21.4" height="21.4" rx="7"/>
<rect class="mk" stroke="#00cc00" x="308.0" y="3055.0" width="21.4" height="21.4" rx="7"/>
<rect class="mk" stroke="#00cc00" x="311.9" y="3030.1" width="21.4" height="21.4" rx="7"/>
<rect class="mk" stroke="#00cc00" x="306.7" y="3003.9" width="21.4" height="21.4" rx="7"/>
<rect class="mk" stroke="#00cc00" x="311.9" y="2979.0" width="21.4" height="21.4" rx="7"/>
<rect class="mk" stroke="#00cc00" x="318.5" y="2954.1" width="21.4" height="21.4" rx="7"/>
<rect class="mk" stroke="#00cc00" x="325.0" y="2929.2" width="21.4" height="21.4" rx="7"/>
<rect class="mk" stroke="#00cc00" x="335.5" y="2907.0" width="21.4" height="21.4" rx="7"/>
<rect class="mk" stroke="#00cc00" x="355.2" y="2887.3" width="21.4" height="21.4" rx="7"/>
<rect class="mk" stroke="#00cc00" x="363.0" y="2863.7" width="21.4" height="21.4" rx="7"/>
<rect class="mk" stroke="#00cc00" x="360.4" y="2833.6" width="21.4" height="21.4" rx="7"/>
<rect class="mk" stroke="#00cc00" x="380.0" y="2815.3" width="21.4" height="21.4" rx="7"/>
<rect class="mk" stroke="#00cc00" x="393.1" y="2793.0" width="21.4" height="21.4" rx="7"/>
<rect class="mk" stroke="#00cc00" x="399.7" y="2768.1" width="21.4" height="21.4" rx="7"/>
<rect class="mk" stroke="#00cc00" x="415.4" y="2749.8" width="21.4" height="21.4" rx="7"/>
<rect class="mk" stroke="#00cc00" x="440.3" y="2734.1" width="21.4" height="21.4" rx="7"/>
<rect class="mk" stroke="#00cc00" x="437.7" y="2700.0" width="21.4" height="21.4" rx="7"/>
<rect class="mk" stroke="#00cc00" x="454.7" y="2680.4" width="21.4" height="21.4" rx="7"/>
<rect class="mk" stroke="#00cc00" x="483.5" y="2675.1" width="21.4" height="21.4" rx="7"/>
<rect class="mk" stroke="#00cc00" x="520.2" y="2677.8" width="21.4" height="21.4" rx="7"/>
<rect class="mk" stroke="#00cc00" x="562.1" y="2683.0" width="21.4" height="21.4" rx="7"/>
<rect class="mk" stroke="#00cc00" x="598.6" y="2692.0" width="21.4" height="21.4" rx="7"/>
<rect class="mk" stroke="#00cc00" x="635.1" y="2706.2" width="21.4" height="21.4" rx="7"/>
<rect class="mk" stroke="#00cc00" x="670.5" y="2714.1" width="21.4" height="21.4" rx="7"/>
<rect class="mk" stroke="#00cc00" x="704.6" y="2725.9" width="21.4" height="21.4" rx="7"/>
<rect class="mk" stroke="#00cc00" x="737.3" y="2741.6" width="21.4" height="21.4" rx="7"/>
<rect class="mk" stroke="#00cc00" x="768.7" y="2759.9" width="21.4" height="21.4" rx="7"/>
<rect class="mk" stroke="#00cc00" x="796.2" y="2774.3" width="21.4" height="21.4" rx="7"/>
<rect class="mk" stroke="#00cc00" x="806.3" y="2765.3" width="21.4" height="21.4" rx="7"/>
<rect class="mk" stroke="#00cc00" x="816.3" y="2754.3" width="21.4" height="21.4" rx="7"/>
<rect class="mk" stroke="#00cc00" x="826.8" y="2737.3" width="21.4" height="21.4" rx="7"/>
<rect class="mk" stroke="#00cc00" x="839.3" y="2725.3" width="21.4" height="21.4" rx="7"/>
<rect class="mk" stroke="#00cc00" x="853.3" y="2718.3" width="21.4" height="21.4" rx="7"/>
<rect class="mk" stroke="#00cc00" x="868.3" y="2712.3" width="21.4" height="21.4" rx="7"/>
<rect class="mk" stroke="#00cc00" x="884.3" y="2709.3" width="21.4" height="21.4" rx="7"/>
<rect class="mk" stroke="#00cc00" x="901.3" y="2710.8" width="21.4" height="21.4" rx="7"/>
<rect class="mk" stroke="#00cc00" x="919.3" y="2710.3" width="21.4" height="21.4" rx="7"/>
<rect class="mk" stroke="#00cc00" x="938.0" y="2719.3" width="21.4" height="21.4" rx="7"/>
<rect class="mk" stroke="#00cc00" x="955.3" y="2724.3" width="21.4" height="21.4" rx="7"/>
<rect class="mk" stroke="#00cc00" x="970.3" y="2724.3" width="21.4" height="21.4" rx="7"/>
<rect class="mk" stroke="#00cc00" x="984.7" y="2740.1" width="21.4" height="21.4" rx="7"/>
<rect class="mk" stroke="#00cc00" x="1002.3" y="2773.4" width="21.4" height="21.4" rx="7"/>
<rect class="mk" stroke="#00cc00" x="1015.0" y="2814.7" width="21.4" height="21.4" rx="7"/>
<rect class="mk" stroke="#00cc00" x="1027.3" y="2841.3" width="21.4" height="21.4" rx="7"/>
<rect class="mk" stroke="#00cc00" x="1038.6" y="2844.2" width="21.4" height="21.4" rx="7"/>
<rect class="mk" stroke="#00cc00" x="1047.3" y="2843.2" width="21.4" height="21.4" rx="7"/>
<rect class="mk" stroke="#00cc00" x="1064.2" y="2797.0" width="21.4" height="21.4" rx="7"/>
<rect class="mk" stroke="#00cc00" x="1080.9" y="2783.3" width="21.4" height="21.4" rx="7"/>
<rect class="mk" stroke="#00cc00" x="1089.7" y="2808.8" width="21.4" height="21.4" rx="7"/>
<rect class="mk" stroke="#00cc00" x="1103.4" y="2785.2" width="21.4" height="21.4" rx="7"/>
<rect class="mk" stroke="#00cc00" x="1112.2" y="2786.5" width="21.4" height="21.4" rx="7"/>
<rect class="mk" stroke="#00cc00" x="1121.1" y="2787.8" width="21.4" height="21.4" rx="7"/>
<rect class="mk" stroke="#00cc00" x="1129.5" y="2786.5" width="21.4" height="21.4" rx="7"/>
<rect class="mk" stroke="#00cc00" x="1137.8" y="2785.2" width="21.4" height="21.4" rx="7"/>
<rect class="mk" stroke="#00cc00" x="1143.5" y="2791.0" width="21.4" height="21.4" rx="7"/>
<rect class="mk" stroke="#00cc00" x="1149.3" y="2796.8" width="21.4" height="21.4" rx="7"/>
<rect class="mk" stroke="#00cc00" x="1156.8" y="2795.9" width="21.4" height="21.4" rx="7"/>
<rect class="mk" stroke="#00cc00" x="1164.3" y="2795.0" width="21.4" height="21.4" rx="7"/>
<rect class="mk" stroke="#00cc00" x="1171.2" y="2794.9" width="21.4" height="21.4" rx="7"/>
<rect class="mk" stroke="#00cc00" x="1178.1" y="2794.8" width="21.4" height="21.4" rx="7"/>
<rect class="mk" stroke="#00cc00" x="1183.2" y="2803.1" width="21.4" height="21.4" rx="7"/>
<rect class="mk" stroke="#00cc00" x="1188.3" y="2811.3" width="21.4" height="21.4" rx="7"/>
<rect class="mk" stroke="#00cc00" x="1193.0" y="2819.6" width="21.4" height="21.4" rx="7"/>
<rect class="mk" stroke="#00cc00" x="1197.7" y="2827.9" width="21.4" height="21.4" rx="7"/>
<rect class="mk" stroke="#00cc00" x="1204.6" y="2831.8" width="21.4" height="21.4" rx="7"/>
<rect class="mk" stroke="#00cc00" x="1211.5" y="2835.7" width="21.4" height="21.4" rx="7"/>
<rect class="mk" stroke="#00cc00" x="1213.5" y="2847.5" width="21.4" height="21.4" rx="7"/>
<rect class="mk" stroke="#00cc00" x="1215.4" y="2859.3" width="21.4" height="21.4" rx="7"/>
<rect class="mk" stroke="#00cc00" x="1216.4" y="2867.2" width="21.4" height="21.4" rx="7"/>
<rect class="mk" stroke="#00cc00" x="1217.4" y="2875.0" width="21.4" height="21.4" rx="7"/>
<rect class="mk" stroke="#00cc00" x="1217.8" y="2884.9" width="21.4" height="21.4" rx="7"/>
<rect class="mk" stroke="#00cc00" x="1218.3" y="2894.7" width="21.4" height="21.4" rx="7"/>
<rect class="mk" stroke="#00cc00" x="1214.8" y="2908.0" width="21.4" height="21.4" rx="7"/>
<rect class="mk" stroke="#00cc00" x="1211.3" y="2921.3" width="21.4" height="21.4" rx="7"/>
<rect class="mk" stroke="#00cc00" x="1217.8" y="2923.2" width="21.4" height="21.4" rx="7"/>
<rect class="mk" stroke="#00cc00" x="1224.3" y="2925.1" width="21.4" height="21.4" rx="7"/>
<rect class="mk" stroke="#00cc00" x="1223.6" y="2933.6" width="21.4" height="21.4" rx="7"/>
<rect class="mk" stroke="#00cc00" x="1222.9" y="2942.1" width="21.4" height="21.4" rx="7"/>
<rect class="mk" stroke="#00cc00" x="1192.1" y="2981.0" width="21.4" height="21.4" rx="7"/>
<rect class="mk" stroke="#00cc00" x="1215.8" y="2975.3" width="21.4" height="21.4" rx="7"/>
<rect class="mk" stroke="#00cc00" x="1182.2" y="3015.1" width="21.4" height="21.4" rx="7"/>
<rect class="mk" stroke="#00cc00" x="1246.7" y="2973.5" width="21.4" height="21.4" rx="7"/>
<rect class="mk" stroke="#00cc00" x="1237.6" y="3003.8" width="21.4" height="21.4" rx="7"/>
<rect class="mk" stroke="#00cc00" x="1286.0" y="2984.8" width="21.4" height="21.4" rx="7"/>
<rect class="mk" stroke="#00cc00" x="1190.6" y="3051.6" width="21.4" height="21.4" rx="7"/>
<rect class="mk" stroke="#00cc00" x="1265.1" y="3018.1" width="21.4" height="21.4" rx="7"/>
<rect class="mk" stroke="#00cc00" x="1201.6" y="3071.7" width="21.4" height="21.4" rx="7"/>
<rect class="mk" stroke="#00cc00" x="1278.7" y="3052.5" width="21.4" height="21.4" rx="7"/>
<rect class="mk" stroke="#00cc00" x="1297.0" y="3054.3" width="21.4" height="21.4" rx="7"/>
<rect class="mk" stroke="#00cc00" x="1282.3" y="3070.8" width="21.4" height="21.4" rx="7"/>
<rect class="mk" stroke="#00cc00" x="1383.1" y="3062.6" width="21.4" height="21.4" rx="7"/>
<rect class="mk" stroke="#00cc00" x="1377.7" y="3089.2" width="21.4" height="21.4" rx="7"/>
<rect class="mk" stroke="#00cc00" x="1413.0" y="3097.5" width="21.4" height="21.4" rx="7"/>
<rect class="mk" stroke="#00cc00" x="1379.9" y="3114.5" width="21.4" height="21.4" rx="7"/>
<rect class="mk" stroke="#00cc00" x="1380.8" y="3131.8" width="21.4" height="21.4" rx="7"/>
<rect class="mk" stroke="#00cc00" x="1469.4" y="3137.7" width="21.4" height="21.4" rx="7"/>
<polyline class="sol" points="309.7,3139.2 306.0,3103.3 308.7,3085.7 317.4,3068.0 316.6,3034.6 319.5,2997.3 326.4,2965.8 335.3,2944.2 347.0,2914.7 370.6,2879.4 374.5,2868.3 375.8,2845.1 386.3,2825.5 407.3,2804.5 409.9,2780.9 447.9,2741.6 450.5,2716.8 466.2,2698.4 480.6,2692.5 500.3,2687.9 531.2,2688.1 570.5,2692.8 609.8,2696.8 623.1,2697.7 662.4,2701.6 693.8,2704.3 735.7,2703.0 827.4,2704.3 848.4,2698.5 860.2,2703.0 874.6,2709.5 892.9,2703.0 912.6,2713.4 924.1,2702.9 947.3,2723.7 964.0,2705.0 971.9,2702.1 979.7,2705.0 995.4,2720.7 1005.3,2747.2 1013.1,2776.7 1019.0,2825.8 1022.0,2884.8 1025.9,2917.2 1030.8,2865.1 1033.7,2806.2 1036.7,2774.7 1050.4,2737.4 1071.1,2721.7 1079.9,2727.6 1087.8,2739.4 1089.7,2782.6 1113.3,2751.2 1120.2,2784.6 1138.9,2766.9 1141.8,2808.1 1164.4,2788.5 1176.2,2792.4 1181.1,2806.2 1186.0,2831.7 1202.2,2850.8 1217.9,2860.6 1241.5,2864.6 1251.3,2874.4 1245.4,2901.9 1278.8,2902.9 1253.3,2945.1 1296.5,2923.5 1278.8,2949.0 1302.4,2950.0 1286.7,2984.4 1294.6,2990.3 1328.0,2990.3 1259.6,3053.2 1305.4,3038.5 1316.4,3044.9 1397.1,3044.0 1327.4,3089.8 1408.1,3078.8 1426.5,3081.6 1466.8,3102.7 1465.9,3119.2 1470.5,3146.7"/>
<text x="1024.6" y="2352.9" text-anchor="middle" class="dg">90</text>
<text x="570.2" y="2473.5" text-anchor="middle" class="dg">120</text>
<text x="1450.1" y="2461.8" text-anchor="middle" class="dg">60</text>
<text x="265.9" y="2770.5" text-anchor="middle" class="dg">150</text>
<text x="1769.7" y="2763.1" text-anchor="middle" class="dg">30</text>
<text x="156.7" y="3188.3" text-anchor="middle" class="dg">180</text>
<text x="1860.1" y="3185.6" text-anchor="middle">0</text>
<text x="1023.2" y="3237.2" text-anchor="middle">0</text>
<text x="1339.6" y="3237.2" text-anchor="middle" class="dg">40</text>
<text x="1658.4" y="3237.2" text-anchor="middle" class="dg">80</text>
<text x="1414.3" y="3306.9" text-anchor="middle">SPL (dB)</text>
<text x="1905" y="2981.6"><tspan class="i">θ</tspan> (deg.)</text>
<text x="3.5" y="2363.4" class="pl">(<tspan class="i">c</tspan>)</text>
</svg></body></html>
